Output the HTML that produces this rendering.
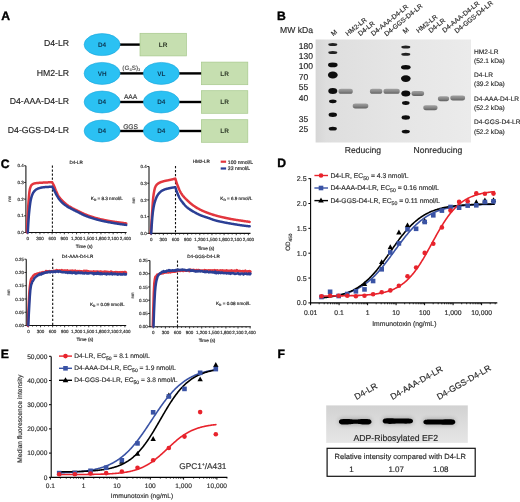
<!DOCTYPE html>
<html><head><meta charset="utf-8"><style>
html,body{margin:0;padding:0;background:#fff;}
body{width:520px;height:502px;overflow:hidden;}
svg{display:block;font-family:'Liberation Sans', Arial, sans-serif;text-rendering:geometricPrecision;}
text:not([stroke]){stroke:#333;stroke-width:0.16px;}
</style></head><body>
<svg width="520" height="502" viewBox="0 0 520 502">
<rect width="520" height="502" fill="#fff"/>
<text x="1.3" y="19.7" font-size="12.2" fill="#000" font-weight="bold" stroke="#000" stroke-width="0.35">A</text>
<text x="69.1" y="46.3" font-size="8.7" fill="#222" text-anchor="end">D4-LR</text>
<text x="69.1" y="76.2" font-size="8.7" fill="#222" text-anchor="end">HM2-LR</text>
<text x="69.1" y="104.2" font-size="8.7" fill="#222" text-anchor="end">D4-AAA-D4-LR</text>
<text x="69.1" y="133.4" font-size="8.7" fill="#222" text-anchor="end">D4-GGS-D4-LR</text>
<line x1="119" y1="44.6" x2="141" y2="44.6" stroke="#000" stroke-width="2.4"/>
<ellipse cx="102.1" cy="44.6" rx="18" ry="11" fill="#2bc1f3" stroke="#1fa6dc" stroke-width="0.6"/>
<text x="102.1" y="46.9" font-size="6.4" fill="#0c3550" text-anchor="middle" font-weight="bold" stroke="none">D4</text>
<rect x="140" y="33.3" width="46.4" height="22.6" fill="#c6dfb0" stroke="#a6c88c" stroke-width="0.7"/>
<text x="163.2" y="46.9" font-size="6.5" fill="#2e3a28" text-anchor="middle" font-weight="bold" stroke="none">LR</text>
<line x1="119" y1="73.4" x2="145" y2="73.4" stroke="#000" stroke-width="2.4"/>
<line x1="178" y1="73.4" x2="202" y2="73.4" stroke="#000" stroke-width="2.4"/>
<ellipse cx="102.1" cy="73.4" rx="18" ry="11" fill="#2bc1f3" stroke="#1fa6dc" stroke-width="0.6"/>
<text x="102.1" y="75.7" font-size="6.4" fill="#0c3550" text-anchor="middle" font-weight="bold" stroke="none">VH</text>
<ellipse cx="161.3" cy="73.4" rx="18" ry="11" fill="#2bc1f3" stroke="#1fa6dc" stroke-width="0.6"/>
<text x="161.3" y="75.7" font-size="6.4" fill="#0c3550" text-anchor="middle" font-weight="bold" stroke="none">VL</text>
<rect x="201.4" y="62.1" width="46.4" height="22.6" fill="#c6dfb0" stroke="#a6c88c" stroke-width="0.7"/>
<text x="224.6" y="75.7" font-size="6.5" fill="#2e3a28" text-anchor="middle" font-weight="bold" stroke="none">LR</text>
<line x1="119" y1="102" x2="145" y2="102" stroke="#000" stroke-width="2.4"/>
<line x1="178" y1="102" x2="202" y2="102" stroke="#000" stroke-width="2.4"/>
<ellipse cx="102.1" cy="102" rx="18" ry="11" fill="#2bc1f3" stroke="#1fa6dc" stroke-width="0.6"/>
<text x="102.1" y="104.3" font-size="6.4" fill="#0c3550" text-anchor="middle" font-weight="bold" stroke="none">D4</text>
<ellipse cx="161.3" cy="102" rx="18" ry="11" fill="#2bc1f3" stroke="#1fa6dc" stroke-width="0.6"/>
<text x="161.3" y="104.3" font-size="6.4" fill="#0c3550" text-anchor="middle" font-weight="bold" stroke="none">D4</text>
<rect x="201.4" y="90.7" width="46.4" height="22.6" fill="#c6dfb0" stroke="#a6c88c" stroke-width="0.7"/>
<text x="224.6" y="104.3" font-size="6.5" fill="#2e3a28" text-anchor="middle" font-weight="bold" stroke="none">LR</text>
<line x1="119" y1="131" x2="145" y2="131" stroke="#000" stroke-width="2.4"/>
<line x1="178" y1="131" x2="202" y2="131" stroke="#000" stroke-width="2.4"/>
<ellipse cx="102.1" cy="131" rx="18" ry="11" fill="#2bc1f3" stroke="#1fa6dc" stroke-width="0.6"/>
<text x="102.1" y="133.3" font-size="6.4" fill="#0c3550" text-anchor="middle" font-weight="bold" stroke="none">D4</text>
<ellipse cx="161.3" cy="131" rx="18" ry="11" fill="#2bc1f3" stroke="#1fa6dc" stroke-width="0.6"/>
<text x="161.3" y="133.3" font-size="6.4" fill="#0c3550" text-anchor="middle" font-weight="bold" stroke="none">D4</text>
<rect x="201.4" y="119.7" width="46.4" height="22.6" fill="#c6dfb0" stroke="#a6c88c" stroke-width="0.7"/>
<text x="224.6" y="133.3" font-size="6.5" fill="#2e3a28" text-anchor="middle" font-weight="bold" stroke="none">LR</text>
<text x="122.3" y="70.2" font-size="6.4" fill="#5a5a5a" font-weight="bold" stroke="none">(G<tspan font-size="4" dy="1.2">4</tspan><tspan dy="-1.2">S)</tspan><tspan font-size="4" dy="1.2">3</tspan></text>
<text x="130.6" y="99.4" font-size="6.7" fill="#444" text-anchor="middle">AAA</text>
<text x="130.6" y="128.6" font-size="6.7" fill="#444" text-anchor="middle">GGS</text>
<text x="277" y="20" font-size="12.2" fill="#000" font-weight="bold" stroke="#000" stroke-width="0.35">B</text>
<text x="280" y="32.8" font-size="8.6" fill="#2a2a2a">MW kDa</text>
<text x="298.8" y="48.7" font-size="8.5" fill="#222">180</text>
<text x="298.8" y="59" font-size="8.5" fill="#222">130</text>
<text x="298.8" y="69.4" font-size="8.5" fill="#222">100</text>
<text x="298.8" y="79.9" font-size="8.5" fill="#222">70</text>
<text x="298.8" y="90.3" font-size="8.5" fill="#222">55</text>
<text x="298.8" y="100.6" font-size="8.5" fill="#222">40</text>
<text x="298.8" y="122" font-size="8.5" fill="#222">35</text>
<text x="298.8" y="132" font-size="8.5" fill="#222">25</text>
<defs><linearGradient id="gelg" x1="0" y1="0" x2="1" y2="0"><stop offset="0" stop-color="#d6d6d6"/><stop offset="0.07" stop-color="#dedede"/><stop offset="0.5" stop-color="#e5e5e5"/><stop offset="1" stop-color="#ebebeb"/></linearGradient><linearGradient id="bandg" x1="0" y1="0" x2="0" y2="1"><stop offset="0" stop-color="#a2a2a2"/><stop offset="0.55" stop-color="#858585"/><stop offset="1" stop-color="#606060"/></linearGradient><filter id="bl1" x="-50%" y="-50%" width="200%" height="200%"><feGaussianBlur stdDeviation="0.7"/></filter><filter id="bl2" x="-50%" y="-50%" width="200%" height="200%"><feGaussianBlur stdDeviation="0.75"/></filter></defs>
<rect x="315.6" y="39.5" width="155.4" height="103" fill="url(#gelg)"/>
<g filter="url(#bl1)">
<ellipse cx="332.8" cy="44.4" rx="4.5" ry="1.5" fill="#222"/>
<ellipse cx="332.8" cy="52.4" rx="4.5" ry="1.5" fill="#222"/>
<ellipse cx="332.8" cy="64.9" rx="4.8" ry="2.3" fill="#111"/>
<ellipse cx="332.8" cy="75.0" rx="4.9" ry="3.5" fill="#0a0a0a"/>
<ellipse cx="332.8" cy="90.9" rx="4.5" ry="3.0" fill="#0a0a0a"/>
<ellipse cx="332.8" cy="101.3" rx="3.8" ry="1.9" fill="#111"/>
<ellipse cx="332.8" cy="114.8" rx="4.2" ry="2.2" fill="#111"/>
<ellipse cx="332.8" cy="128.7" rx="4.1" ry="1.9" fill="#111"/>
<ellipse cx="405.8" cy="46.9" rx="4.5" ry="1.5" fill="#222"/>
<ellipse cx="405.8" cy="54.3" rx="4.5" ry="1.5" fill="#222"/>
<ellipse cx="405.8" cy="67.3" rx="4.8" ry="2.3" fill="#111"/>
<ellipse cx="405.8" cy="78.6" rx="4.8" ry="3.4" fill="#0a0a0a"/>
<ellipse cx="405.8" cy="93.6" rx="4.5" ry="3.0" fill="#0a0a0a"/>
<ellipse cx="405.8" cy="103.0" rx="3.8" ry="1.9" fill="#111"/>
<ellipse cx="405.8" cy="117.5" rx="4.2" ry="2.2" fill="#111"/>
<ellipse cx="405.8" cy="131.6" rx="4.1" ry="1.9" fill="#111"/>
</g><g filter="url(#bl2)">
<rect x="338.5" y="88.8" width="14.3" height="5.0" rx="2.6" ry="2.4" fill="url(#bandg)"/>
<rect x="352.7" y="103.4" width="15.6" height="5.0" rx="2.6" ry="2.4" fill="url(#bandg)"/>
<rect x="369.9" y="88.8" width="12.4" height="5.0" rx="2.6" ry="2.4" fill="url(#bandg)"/>
<rect x="383.5" y="88.8" width="16.2" height="5.0" rx="2.6" ry="2.4" fill="url(#bandg)"/>
<rect x="411.5" y="90.9" width="12.6" height="5.0" rx="2.6" ry="2.4" fill="url(#bandg)"/>
<rect x="423.3" y="105.2" width="14.2" height="5.0" rx="2.6" ry="2.4" fill="url(#bandg)"/>
<rect x="437.9" y="96.2" width="11.2" height="5.0" rx="2.6" ry="2.4" fill="url(#bandg)"/>
<rect x="450.3" y="95.4" width="14.8" height="5.0" rx="2.6" ry="2.4" fill="url(#bandg)"/>
</g>
<text x="333.2" y="36.3" font-size="6.7" fill="#2a2a2a" transform="rotate(-39 333.2 36.3)">M</text>
<text x="347.8" y="36.3" font-size="6.7" fill="#2a2a2a" transform="rotate(-39 347.8 36.3)">HM2-LR</text>
<text x="360.2" y="36.3" font-size="6.7" fill="#2a2a2a" transform="rotate(-39 360.2 36.3)">D4-LR</text>
<text x="373.2" y="36.3" font-size="6.7" fill="#2a2a2a" transform="rotate(-39 373.2 36.3)">D4-AAA-D4-LR</text>
<text x="386.4" y="36.5" font-size="6.7" fill="#2a2a2a" transform="rotate(-39 386.4 36.5)">D4-GGS-D4-LR</text>
<text x="405" y="34" font-size="6.7" fill="#2a2a2a" transform="rotate(-39 405 34)">M</text>
<text x="418.6" y="33.3" font-size="6.7" fill="#2a2a2a" transform="rotate(-39 418.6 33.3)">HM2-LR</text>
<text x="430.7" y="33.3" font-size="6.7" fill="#2a2a2a" transform="rotate(-39 430.7 33.3)">D4-LR</text>
<text x="444.5" y="32.9" font-size="6.7" fill="#2a2a2a" transform="rotate(-39 444.5 32.9)">D4-AAA-D4-LR</text>
<text x="456.8" y="33.5" font-size="6.7" fill="#2a2a2a" transform="rotate(-39 456.8 33.5)">D4-GGS-D4-LR</text>
<text x="474" y="54.2" font-size="6.6" fill="#2a2a2a">HM2-LR</text>
<text x="474" y="62.5" font-size="6.6" fill="#2a2a2a">(52.1 kDa)</text>
<text x="474" y="77.2" font-size="6.6" fill="#2a2a2a">D4-LR</text>
<text x="474" y="86" font-size="6.6" fill="#2a2a2a">(39.2 kDa)</text>
<text x="474" y="100.6" font-size="6.6" fill="#2a2a2a">D4-AAA-D4-LR</text>
<text x="474" y="109.7" font-size="6.6" fill="#2a2a2a">(52.2 kDa)</text>
<text x="474" y="124.3" font-size="6.6" fill="#2a2a2a">D4-GGS-D4-LR</text>
<text x="474" y="133.7" font-size="6.6" fill="#2a2a2a">(52.2 kDa)</text>
<text x="344.8" y="153.1" font-size="8.6" fill="#2a2a2a">Reducing</text>
<text x="413.5" y="153.1" font-size="8.6" fill="#2a2a2a">Nonreducing</text>
<text x="0.8" y="167.6" font-size="12.2" fill="#000" font-weight="bold" stroke="#000" stroke-width="0.35">C</text>
<line x1="25.9" y1="165.78" x2="25.9" y2="233" stroke="#1a1a1a" stroke-width="1.1"/>
<line x1="24.1" y1="232.5" x2="25.9" y2="232.5" stroke="#1a1a1a" stroke-width="0.9"/>
<text x="23.7" y="234.1" font-size="4.5" fill="#333" text-anchor="end" stroke="#333" stroke-width="0.18">0.0</text>
<line x1="24.1" y1="215.82" x2="25.9" y2="215.82" stroke="#1a1a1a" stroke-width="0.9"/>
<text x="23.7" y="217.42" font-size="4.5" fill="#333" text-anchor="end" stroke="#333" stroke-width="0.18">0.1</text>
<line x1="24.1" y1="199.14" x2="25.9" y2="199.14" stroke="#1a1a1a" stroke-width="0.9"/>
<text x="23.7" y="200.74" font-size="4.5" fill="#333" text-anchor="end" stroke="#333" stroke-width="0.18">0.2</text>
<line x1="24.1" y1="182.46" x2="25.9" y2="182.46" stroke="#1a1a1a" stroke-width="0.9"/>
<text x="23.7" y="184.06" font-size="4.5" fill="#333" text-anchor="end" stroke="#333" stroke-width="0.18">0.3</text>
<line x1="24.1" y1="165.78" x2="25.9" y2="165.78" stroke="#1a1a1a" stroke-width="0.9"/>
<text x="23.7" y="167.38" font-size="4.5" fill="#333" text-anchor="end" stroke="#333" stroke-width="0.18">0.4</text>
<line x1="25.9" y1="232.5" x2="126.6" y2="232.5" stroke="#111" stroke-width="1.1"/>
<line x1="27.75" y1="232.5" x2="27.75" y2="234.3" stroke="#111" stroke-width="0.8"/>
<text x="27.75" y="240.1" font-size="4.5" fill="#333" text-anchor="middle" stroke="#333" stroke-width="0.18">0</text>
<line x1="31.82" y1="232.5" x2="31.82" y2="233.7" stroke="#111" stroke-width="0.7"/>
<line x1="35.88" y1="232.5" x2="35.88" y2="233.7" stroke="#111" stroke-width="0.7"/>
<line x1="39.95" y1="232.5" x2="39.95" y2="234.3" stroke="#111" stroke-width="0.8"/>
<text x="39.95" y="240.1" font-size="4.5" fill="#333" text-anchor="middle" stroke="#333" stroke-width="0.18">300</text>
<line x1="44.02" y1="232.5" x2="44.02" y2="233.7" stroke="#111" stroke-width="0.7"/>
<line x1="48.08" y1="232.5" x2="48.08" y2="233.7" stroke="#111" stroke-width="0.7"/>
<line x1="52.15" y1="232.5" x2="52.15" y2="234.3" stroke="#111" stroke-width="0.8"/>
<text x="52.15" y="240.1" font-size="4.5" fill="#333" text-anchor="middle" stroke="#333" stroke-width="0.18">600</text>
<line x1="56.22" y1="232.5" x2="56.22" y2="233.7" stroke="#111" stroke-width="0.7"/>
<line x1="60.28" y1="232.5" x2="60.28" y2="233.7" stroke="#111" stroke-width="0.7"/>
<line x1="64.35" y1="232.5" x2="64.35" y2="234.3" stroke="#111" stroke-width="0.8"/>
<text x="64.35" y="240.1" font-size="4.5" fill="#333" text-anchor="middle" stroke="#333" stroke-width="0.18">900</text>
<line x1="68.42" y1="232.5" x2="68.42" y2="233.7" stroke="#111" stroke-width="0.7"/>
<line x1="72.48" y1="232.5" x2="72.48" y2="233.7" stroke="#111" stroke-width="0.7"/>
<line x1="76.55" y1="232.5" x2="76.55" y2="234.3" stroke="#111" stroke-width="0.8"/>
<text x="76.55" y="240.1" font-size="4.5" fill="#333" text-anchor="middle" stroke="#333" stroke-width="0.18">1,200</text>
<line x1="80.62" y1="232.5" x2="80.62" y2="233.7" stroke="#111" stroke-width="0.7"/>
<line x1="84.68" y1="232.5" x2="84.68" y2="233.7" stroke="#111" stroke-width="0.7"/>
<line x1="88.75" y1="232.5" x2="88.75" y2="234.3" stroke="#111" stroke-width="0.8"/>
<text x="88.75" y="240.1" font-size="4.5" fill="#333" text-anchor="middle" stroke="#333" stroke-width="0.18">1,500</text>
<line x1="92.82" y1="232.5" x2="92.82" y2="233.7" stroke="#111" stroke-width="0.7"/>
<line x1="96.88" y1="232.5" x2="96.88" y2="233.7" stroke="#111" stroke-width="0.7"/>
<line x1="100.95" y1="232.5" x2="100.95" y2="234.3" stroke="#111" stroke-width="0.8"/>
<text x="100.95" y="240.1" font-size="4.5" fill="#333" text-anchor="middle" stroke="#333" stroke-width="0.18">1,800</text>
<line x1="105.02" y1="232.5" x2="105.02" y2="233.7" stroke="#111" stroke-width="0.7"/>
<line x1="109.08" y1="232.5" x2="109.08" y2="233.7" stroke="#111" stroke-width="0.7"/>
<line x1="113.15" y1="232.5" x2="113.15" y2="234.3" stroke="#111" stroke-width="0.8"/>
<text x="113.15" y="240.1" font-size="4.5" fill="#333" text-anchor="middle" stroke="#333" stroke-width="0.18">2,100</text>
<line x1="117.22" y1="232.5" x2="117.22" y2="233.7" stroke="#111" stroke-width="0.7"/>
<line x1="121.28" y1="232.5" x2="121.28" y2="233.7" stroke="#111" stroke-width="0.7"/>
<line x1="125.35" y1="232.5" x2="125.35" y2="234.3" stroke="#111" stroke-width="0.8"/>
<text x="125.35" y="240.1" font-size="4.5" fill="#333" text-anchor="middle" stroke="#333" stroke-width="0.18">2,400</text>
<text x="84.2" y="248" font-size="4.6" fill="#222" text-anchor="middle" stroke="#333" stroke-width="0.18">Time (s)</text>
<text x="11.2" y="198.8" font-size="4.3" fill="#333" stroke="#333" stroke-width="0.15" text-anchor="middle" transform="rotate(-90 11.2 198.8)">nm</text>
<text x="76.1" y="163.5" font-size="4.6" fill="#222" text-anchor="middle" stroke="#333" stroke-width="0.18">D4-LR</text>
<text x="90.8" y="199.6" font-size="4.6" fill="#222" stroke="#333" stroke-width="0.18">K<tspan font-size="3.2" dy="1">D</tspan><tspan dy="-1"> = 8.3 nmol/L</tspan></text>
<line x1="52.4" y1="165.5" x2="52.4" y2="232.5" stroke="#111" stroke-width="1.1" stroke-dasharray="2.2 1.8"/>
<line x1="149" y1="166.5" x2="149" y2="233.9" stroke="#1a1a1a" stroke-width="1.1"/>
<line x1="147.2" y1="233.4" x2="149" y2="233.4" stroke="#1a1a1a" stroke-width="0.9"/>
<text x="146.8" y="235" font-size="4.5" fill="#333" text-anchor="end" stroke="#333" stroke-width="0.18">0.0</text>
<line x1="147.2" y1="216.68" x2="149" y2="216.68" stroke="#1a1a1a" stroke-width="0.9"/>
<text x="146.8" y="218.28" font-size="4.5" fill="#333" text-anchor="end" stroke="#333" stroke-width="0.18">0.1</text>
<line x1="147.2" y1="199.95" x2="149" y2="199.95" stroke="#1a1a1a" stroke-width="0.9"/>
<text x="146.8" y="201.55" font-size="4.5" fill="#333" text-anchor="end" stroke="#333" stroke-width="0.18">0.2</text>
<line x1="147.2" y1="183.22" x2="149" y2="183.22" stroke="#1a1a1a" stroke-width="0.9"/>
<text x="146.8" y="184.82" font-size="4.5" fill="#333" text-anchor="end" stroke="#333" stroke-width="0.18">0.3</text>
<line x1="147.2" y1="166.5" x2="149" y2="166.5" stroke="#1a1a1a" stroke-width="0.9"/>
<text x="146.8" y="168.1" font-size="4.5" fill="#333" text-anchor="end" stroke="#333" stroke-width="0.18">0.4</text>
<line x1="149" y1="233.4" x2="250.5" y2="233.4" stroke="#111" stroke-width="1.1"/>
<line x1="151.2" y1="233.4" x2="151.2" y2="235.2" stroke="#111" stroke-width="0.8"/>
<text x="151.2" y="241" font-size="4.5" fill="#333" text-anchor="middle" stroke="#333" stroke-width="0.18">0</text>
<line x1="155.25" y1="233.4" x2="155.25" y2="234.6" stroke="#111" stroke-width="0.7"/>
<line x1="159.3" y1="233.4" x2="159.3" y2="234.6" stroke="#111" stroke-width="0.7"/>
<line x1="163.35" y1="233.4" x2="163.35" y2="235.2" stroke="#111" stroke-width="0.8"/>
<text x="163.35" y="241" font-size="4.5" fill="#333" text-anchor="middle" stroke="#333" stroke-width="0.18">300</text>
<line x1="167.4" y1="233.4" x2="167.4" y2="234.6" stroke="#111" stroke-width="0.7"/>
<line x1="171.45" y1="233.4" x2="171.45" y2="234.6" stroke="#111" stroke-width="0.7"/>
<line x1="175.5" y1="233.4" x2="175.5" y2="235.2" stroke="#111" stroke-width="0.8"/>
<text x="175.5" y="241" font-size="4.5" fill="#333" text-anchor="middle" stroke="#333" stroke-width="0.18">600</text>
<line x1="179.55" y1="233.4" x2="179.55" y2="234.6" stroke="#111" stroke-width="0.7"/>
<line x1="183.6" y1="233.4" x2="183.6" y2="234.6" stroke="#111" stroke-width="0.7"/>
<line x1="187.65" y1="233.4" x2="187.65" y2="235.2" stroke="#111" stroke-width="0.8"/>
<text x="187.65" y="241" font-size="4.5" fill="#333" text-anchor="middle" stroke="#333" stroke-width="0.18">900</text>
<line x1="191.7" y1="233.4" x2="191.7" y2="234.6" stroke="#111" stroke-width="0.7"/>
<line x1="195.75" y1="233.4" x2="195.75" y2="234.6" stroke="#111" stroke-width="0.7"/>
<line x1="199.8" y1="233.4" x2="199.8" y2="235.2" stroke="#111" stroke-width="0.8"/>
<text x="199.8" y="241" font-size="4.5" fill="#333" text-anchor="middle" stroke="#333" stroke-width="0.18">1,200</text>
<line x1="203.85" y1="233.4" x2="203.85" y2="234.6" stroke="#111" stroke-width="0.7"/>
<line x1="207.9" y1="233.4" x2="207.9" y2="234.6" stroke="#111" stroke-width="0.7"/>
<line x1="211.95" y1="233.4" x2="211.95" y2="235.2" stroke="#111" stroke-width="0.8"/>
<text x="211.95" y="241" font-size="4.5" fill="#333" text-anchor="middle" stroke="#333" stroke-width="0.18">1,500</text>
<line x1="216" y1="233.4" x2="216" y2="234.6" stroke="#111" stroke-width="0.7"/>
<line x1="220.05" y1="233.4" x2="220.05" y2="234.6" stroke="#111" stroke-width="0.7"/>
<line x1="224.1" y1="233.4" x2="224.1" y2="235.2" stroke="#111" stroke-width="0.8"/>
<text x="224.1" y="241" font-size="4.5" fill="#333" text-anchor="middle" stroke="#333" stroke-width="0.18">1,800</text>
<line x1="228.15" y1="233.4" x2="228.15" y2="234.6" stroke="#111" stroke-width="0.7"/>
<line x1="232.2" y1="233.4" x2="232.2" y2="234.6" stroke="#111" stroke-width="0.7"/>
<line x1="236.25" y1="233.4" x2="236.25" y2="235.2" stroke="#111" stroke-width="0.8"/>
<text x="236.25" y="241" font-size="4.5" fill="#333" text-anchor="middle" stroke="#333" stroke-width="0.18">2,100</text>
<line x1="240.3" y1="233.4" x2="240.3" y2="234.6" stroke="#111" stroke-width="0.7"/>
<line x1="244.35" y1="233.4" x2="244.35" y2="234.6" stroke="#111" stroke-width="0.7"/>
<line x1="248.4" y1="233.4" x2="248.4" y2="235.2" stroke="#111" stroke-width="0.8"/>
<text x="248.4" y="241" font-size="4.5" fill="#333" text-anchor="middle" stroke="#333" stroke-width="0.18">2,400</text>
<text x="206" y="249.8" font-size="4.6" fill="#222" text-anchor="middle" stroke="#333" stroke-width="0.18">Time (s)</text>
<text x="134.6" y="200.5" font-size="4.3" fill="#333" stroke="#333" stroke-width="0.15" text-anchor="middle" transform="rotate(-90 134.6 200.5)">nm</text>
<text x="201.2" y="163.3" font-size="4.6" fill="#222" text-anchor="middle" stroke="#333" stroke-width="0.18">HM2-LR</text>
<text x="220.3" y="199.9" font-size="4.6" fill="#222" stroke="#333" stroke-width="0.18">K<tspan font-size="3.2" dy="1">D</tspan><tspan dy="-1"> = 6.9 nmol/L</tspan></text>
<line x1="175.5" y1="166" x2="175.5" y2="233.4" stroke="#111" stroke-width="1.1" stroke-dasharray="2.2 1.8"/>
<line x1="26.25" y1="259.2" x2="26.25" y2="326" stroke="#1a1a1a" stroke-width="1.1"/>
<line x1="24.45" y1="325.5" x2="26.25" y2="325.5" stroke="#1a1a1a" stroke-width="0.9"/>
<text x="24.05" y="327.1" font-size="4.5" fill="#333" text-anchor="end" stroke="#333" stroke-width="0.18">0.00</text>
<line x1="24.45" y1="312.24" x2="26.25" y2="312.24" stroke="#1a1a1a" stroke-width="0.9"/>
<text x="24.05" y="313.84" font-size="4.5" fill="#333" text-anchor="end" stroke="#333" stroke-width="0.18">0.05</text>
<line x1="24.45" y1="298.98" x2="26.25" y2="298.98" stroke="#1a1a1a" stroke-width="0.9"/>
<text x="24.05" y="300.58" font-size="4.5" fill="#333" text-anchor="end" stroke="#333" stroke-width="0.18">0.10</text>
<line x1="24.45" y1="285.72" x2="26.25" y2="285.72" stroke="#1a1a1a" stroke-width="0.9"/>
<text x="24.05" y="287.32" font-size="4.5" fill="#333" text-anchor="end" stroke="#333" stroke-width="0.18">0.15</text>
<line x1="24.45" y1="272.46" x2="26.25" y2="272.46" stroke="#1a1a1a" stroke-width="0.9"/>
<text x="24.05" y="274.06" font-size="4.5" fill="#333" text-anchor="end" stroke="#333" stroke-width="0.18">0.20</text>
<line x1="24.45" y1="259.2" x2="26.25" y2="259.2" stroke="#1a1a1a" stroke-width="0.9"/>
<text x="24.05" y="260.8" font-size="4.5" fill="#333" text-anchor="end" stroke="#333" stroke-width="0.18">0.25</text>
<line x1="26.25" y1="325.5" x2="126.2" y2="325.5" stroke="#111" stroke-width="1.1"/>
<line x1="28.5" y1="325.5" x2="28.5" y2="327.3" stroke="#111" stroke-width="0.8"/>
<text x="28.5" y="333.1" font-size="4.5" fill="#333" text-anchor="middle" stroke="#333" stroke-width="0.18">0</text>
<line x1="32.52" y1="325.5" x2="32.52" y2="326.7" stroke="#111" stroke-width="0.7"/>
<line x1="36.53" y1="325.5" x2="36.53" y2="326.7" stroke="#111" stroke-width="0.7"/>
<line x1="40.55" y1="325.5" x2="40.55" y2="327.3" stroke="#111" stroke-width="0.8"/>
<text x="40.55" y="333.1" font-size="4.5" fill="#333" text-anchor="middle" stroke="#333" stroke-width="0.18">300</text>
<line x1="44.57" y1="325.5" x2="44.57" y2="326.7" stroke="#111" stroke-width="0.7"/>
<line x1="48.58" y1="325.5" x2="48.58" y2="326.7" stroke="#111" stroke-width="0.7"/>
<line x1="52.6" y1="325.5" x2="52.6" y2="327.3" stroke="#111" stroke-width="0.8"/>
<text x="52.6" y="333.1" font-size="4.5" fill="#333" text-anchor="middle" stroke="#333" stroke-width="0.18">600</text>
<line x1="56.62" y1="325.5" x2="56.62" y2="326.7" stroke="#111" stroke-width="0.7"/>
<line x1="60.63" y1="325.5" x2="60.63" y2="326.7" stroke="#111" stroke-width="0.7"/>
<line x1="64.65" y1="325.5" x2="64.65" y2="327.3" stroke="#111" stroke-width="0.8"/>
<text x="64.65" y="333.1" font-size="4.5" fill="#333" text-anchor="middle" stroke="#333" stroke-width="0.18">900</text>
<line x1="68.67" y1="325.5" x2="68.67" y2="326.7" stroke="#111" stroke-width="0.7"/>
<line x1="72.68" y1="325.5" x2="72.68" y2="326.7" stroke="#111" stroke-width="0.7"/>
<line x1="76.7" y1="325.5" x2="76.7" y2="327.3" stroke="#111" stroke-width="0.8"/>
<text x="76.7" y="333.1" font-size="4.5" fill="#333" text-anchor="middle" stroke="#333" stroke-width="0.18">1,200</text>
<line x1="80.72" y1="325.5" x2="80.72" y2="326.7" stroke="#111" stroke-width="0.7"/>
<line x1="84.73" y1="325.5" x2="84.73" y2="326.7" stroke="#111" stroke-width="0.7"/>
<line x1="88.75" y1="325.5" x2="88.75" y2="327.3" stroke="#111" stroke-width="0.8"/>
<text x="88.75" y="333.1" font-size="4.5" fill="#333" text-anchor="middle" stroke="#333" stroke-width="0.18">1,500</text>
<line x1="92.77" y1="325.5" x2="92.77" y2="326.7" stroke="#111" stroke-width="0.7"/>
<line x1="96.78" y1="325.5" x2="96.78" y2="326.7" stroke="#111" stroke-width="0.7"/>
<line x1="100.8" y1="325.5" x2="100.8" y2="327.3" stroke="#111" stroke-width="0.8"/>
<text x="100.8" y="333.1" font-size="4.5" fill="#333" text-anchor="middle" stroke="#333" stroke-width="0.18">1,800</text>
<line x1="104.82" y1="325.5" x2="104.82" y2="326.7" stroke="#111" stroke-width="0.7"/>
<line x1="108.83" y1="325.5" x2="108.83" y2="326.7" stroke="#111" stroke-width="0.7"/>
<line x1="112.85" y1="325.5" x2="112.85" y2="327.3" stroke="#111" stroke-width="0.8"/>
<text x="112.85" y="333.1" font-size="4.5" fill="#333" text-anchor="middle" stroke="#333" stroke-width="0.18">2,100</text>
<line x1="116.87" y1="325.5" x2="116.87" y2="326.7" stroke="#111" stroke-width="0.7"/>
<line x1="120.88" y1="325.5" x2="120.88" y2="326.7" stroke="#111" stroke-width="0.7"/>
<line x1="124.9" y1="325.5" x2="124.9" y2="327.3" stroke="#111" stroke-width="0.8"/>
<text x="124.9" y="333.1" font-size="4.5" fill="#333" text-anchor="middle" stroke="#333" stroke-width="0.18">2,400</text>
<text x="84.9" y="340.9" font-size="4.6" fill="#222" text-anchor="middle" stroke="#333" stroke-width="0.18">Time (s)</text>
<text x="10" y="292.5" font-size="4.3" fill="#333" stroke="#333" stroke-width="0.15" text-anchor="middle" transform="rotate(-90 10 292.5)">nm</text>
<text x="77.5" y="258.4" font-size="4.6" fill="#222" text-anchor="middle" stroke="#333" stroke-width="0.18">D4-AAA-D4-LR</text>
<text x="89.9" y="305.6" font-size="4.6" fill="#222" stroke="#333" stroke-width="0.18">K<tspan font-size="3.2" dy="1">D</tspan><tspan dy="-1"> = 0.09 nmol/L</tspan></text>
<line x1="52.7" y1="258.8" x2="52.7" y2="325.5" stroke="#111" stroke-width="1.1" stroke-dasharray="2.2 1.8"/>
<line x1="149.9" y1="260.5" x2="149.9" y2="327.2" stroke="#1a1a1a" stroke-width="1.1"/>
<line x1="148.1" y1="326.7" x2="149.9" y2="326.7" stroke="#1a1a1a" stroke-width="0.9"/>
<text x="147.7" y="328.3" font-size="4.5" fill="#333" text-anchor="end" stroke="#333" stroke-width="0.18">0.00</text>
<line x1="148.1" y1="313.46" x2="149.9" y2="313.46" stroke="#1a1a1a" stroke-width="0.9"/>
<text x="147.7" y="315.06" font-size="4.5" fill="#333" text-anchor="end" stroke="#333" stroke-width="0.18">0.05</text>
<line x1="148.1" y1="300.22" x2="149.9" y2="300.22" stroke="#1a1a1a" stroke-width="0.9"/>
<text x="147.7" y="301.82" font-size="4.5" fill="#333" text-anchor="end" stroke="#333" stroke-width="0.18">0.10</text>
<line x1="148.1" y1="286.98" x2="149.9" y2="286.98" stroke="#1a1a1a" stroke-width="0.9"/>
<text x="147.7" y="288.58" font-size="4.5" fill="#333" text-anchor="end" stroke="#333" stroke-width="0.18">0.15</text>
<line x1="148.1" y1="273.74" x2="149.9" y2="273.74" stroke="#1a1a1a" stroke-width="0.9"/>
<text x="147.7" y="275.34" font-size="4.5" fill="#333" text-anchor="end" stroke="#333" stroke-width="0.18">0.20</text>
<line x1="148.1" y1="260.5" x2="149.9" y2="260.5" stroke="#1a1a1a" stroke-width="0.9"/>
<text x="147.7" y="262.1" font-size="4.5" fill="#333" text-anchor="end" stroke="#333" stroke-width="0.18">0.25</text>
<line x1="149.9" y1="326.7" x2="250.8" y2="326.7" stroke="#111" stroke-width="1.1"/>
<line x1="153.3" y1="326.7" x2="153.3" y2="328.5" stroke="#111" stroke-width="0.8"/>
<text x="153.3" y="334.3" font-size="4.5" fill="#333" text-anchor="middle" stroke="#333" stroke-width="0.18">0</text>
<line x1="157.33" y1="326.7" x2="157.33" y2="327.9" stroke="#111" stroke-width="0.7"/>
<line x1="161.37" y1="326.7" x2="161.37" y2="327.9" stroke="#111" stroke-width="0.7"/>
<line x1="165.4" y1="326.7" x2="165.4" y2="328.5" stroke="#111" stroke-width="0.8"/>
<text x="165.4" y="334.3" font-size="4.5" fill="#333" text-anchor="middle" stroke="#333" stroke-width="0.18">300</text>
<line x1="169.43" y1="326.7" x2="169.43" y2="327.9" stroke="#111" stroke-width="0.7"/>
<line x1="173.47" y1="326.7" x2="173.47" y2="327.9" stroke="#111" stroke-width="0.7"/>
<line x1="177.5" y1="326.7" x2="177.5" y2="328.5" stroke="#111" stroke-width="0.8"/>
<text x="177.5" y="334.3" font-size="4.5" fill="#333" text-anchor="middle" stroke="#333" stroke-width="0.18">600</text>
<line x1="181.53" y1="326.7" x2="181.53" y2="327.9" stroke="#111" stroke-width="0.7"/>
<line x1="185.57" y1="326.7" x2="185.57" y2="327.9" stroke="#111" stroke-width="0.7"/>
<line x1="189.6" y1="326.7" x2="189.6" y2="328.5" stroke="#111" stroke-width="0.8"/>
<text x="189.6" y="334.3" font-size="4.5" fill="#333" text-anchor="middle" stroke="#333" stroke-width="0.18">900</text>
<line x1="193.63" y1="326.7" x2="193.63" y2="327.9" stroke="#111" stroke-width="0.7"/>
<line x1="197.67" y1="326.7" x2="197.67" y2="327.9" stroke="#111" stroke-width="0.7"/>
<line x1="201.7" y1="326.7" x2="201.7" y2="328.5" stroke="#111" stroke-width="0.8"/>
<text x="201.7" y="334.3" font-size="4.5" fill="#333" text-anchor="middle" stroke="#333" stroke-width="0.18">1,200</text>
<line x1="205.73" y1="326.7" x2="205.73" y2="327.9" stroke="#111" stroke-width="0.7"/>
<line x1="209.77" y1="326.7" x2="209.77" y2="327.9" stroke="#111" stroke-width="0.7"/>
<line x1="213.8" y1="326.7" x2="213.8" y2="328.5" stroke="#111" stroke-width="0.8"/>
<text x="213.8" y="334.3" font-size="4.5" fill="#333" text-anchor="middle" stroke="#333" stroke-width="0.18">1,500</text>
<line x1="217.83" y1="326.7" x2="217.83" y2="327.9" stroke="#111" stroke-width="0.7"/>
<line x1="221.87" y1="326.7" x2="221.87" y2="327.9" stroke="#111" stroke-width="0.7"/>
<line x1="225.9" y1="326.7" x2="225.9" y2="328.5" stroke="#111" stroke-width="0.8"/>
<text x="225.9" y="334.3" font-size="4.5" fill="#333" text-anchor="middle" stroke="#333" stroke-width="0.18">1,800</text>
<line x1="229.93" y1="326.7" x2="229.93" y2="327.9" stroke="#111" stroke-width="0.7"/>
<line x1="233.97" y1="326.7" x2="233.97" y2="327.9" stroke="#111" stroke-width="0.7"/>
<line x1="238" y1="326.7" x2="238" y2="328.5" stroke="#111" stroke-width="0.8"/>
<text x="238" y="334.3" font-size="4.5" fill="#333" text-anchor="middle" stroke="#333" stroke-width="0.18">2,100</text>
<line x1="242.03" y1="326.7" x2="242.03" y2="327.9" stroke="#111" stroke-width="0.7"/>
<line x1="246.07" y1="326.7" x2="246.07" y2="327.9" stroke="#111" stroke-width="0.7"/>
<line x1="250.1" y1="326.7" x2="250.1" y2="328.5" stroke="#111" stroke-width="0.8"/>
<text x="250.1" y="334.3" font-size="4.5" fill="#333" text-anchor="middle" stroke="#333" stroke-width="0.18">2,400</text>
<text x="207" y="342" font-size="4.6" fill="#222" text-anchor="middle" stroke="#333" stroke-width="0.18">Time (s)</text>
<text x="134" y="295.4" font-size="4.3" fill="#333" stroke="#333" stroke-width="0.15" text-anchor="middle" transform="rotate(-90 134 295.4)">nm</text>
<text x="203.5" y="258.2" font-size="4.6" fill="#222" text-anchor="middle" stroke="#333" stroke-width="0.18">D4-GGS-D4-LR</text>
<text x="216" y="305.4" font-size="4.6" fill="#222" stroke="#333" stroke-width="0.18">K<tspan font-size="3.2" dy="1">D</tspan><tspan dy="-1"> = 0.08 nmol/L</tspan></text>
<line x1="177.5" y1="260.5" x2="177.5" y2="326.7" stroke="#111" stroke-width="1.1" stroke-dasharray="2.2 1.8"/>
<rect x="220.7" y="160.6" width="5.4" height="2.2" fill="#e2363e"/>
<rect x="220.7" y="167.4" width="5.4" height="2.2" fill="#2b3f95"/>
<text x="227.8" y="163.5" font-size="5.1" fill="#222" stroke="#333" stroke-width="0.18">100 nmol/L</text>
<text x="227.8" y="170.3" font-size="5.1" fill="#222" stroke="#333" stroke-width="0.18">33 nmol/L</text>
<polyline points="27,232.5 27.4,222.78 27.8,214.15 28.2,206.85 28.6,201.08 29,196.07 29.4,191.97 29.8,189.4 30.2,187.95 30.6,186.78 31,185.87 31.4,185.22 31.8,184.82 32.2,184.5 32.6,184.23 33,183.99 33.4,183.79 33.8,183.63 34.2,183.49 34.6,183.38 35,183.3 35.4,183.24 35.8,183.18 36.2,183.12 36.6,183.07 37,183.02 37.4,182.98 37.8,182.94 38.2,182.91 38.6,182.88 39,182.85 39.4,182.82 39.8,182.79 40.2,182.77 40.6,182.74 41,182.72 41.4,182.7 41.8,182.68 42.2,182.66 42.6,182.63 43,182.61 43.4,182.59 43.8,182.57 44.2,182.55 44.6,182.53 45,182.51 45.4,182.49 45.8,182.47 46.2,182.45 46.6,182.44 47,182.42 47.4,182.4 47.8,182.39 48.2,182.37 48.6,182.36 49,182.35 49.4,182.34 49.8,182.33 50.2,182.32 50.6,182.31 51,182.31 51.4,182.3 51.8,182.3 52.2,182.3 52.2,182.3 52.2,182.3 52.6,183 53,183.75 53.4,184.54 53.8,185.37 54.2,186.25 54.6,187.22 55,188.26 55.4,189.32 55.8,190.37 56.2,191.35 56.6,192.24 57,193.11 57.4,193.95 57.8,194.76 58.2,195.51 58.6,196.19 59,196.79 59.4,197.35 59.8,197.86 60.2,198.35 60.6,198.81 61,199.25 61.4,199.68 61.8,200.09 62.2,200.5 62.6,200.9 63,201.3 63.4,201.7 63.8,202.08 64.2,202.46 64.6,202.83 65,203.19 65.4,203.54 65.8,203.88 66.2,204.21 66.6,204.52 67,204.83 67.4,205.12 67.8,205.4 68.2,205.67 68.6,205.94 69,206.19 69.4,206.45 69.8,206.69 70.2,206.93 70.6,207.16 71,207.39 71.4,207.62 71.8,207.84 72.2,208.07 72.6,208.28 73,208.49 73.4,208.7 73.8,208.91 74.2,209.11 74.6,209.3 75,209.5 75.4,209.69 75.8,209.89 76.2,210.08 76.6,210.27 77,210.46 77.4,210.66 77.8,210.85 78.2,211.05 78.6,211.25 79,211.44 79.4,211.65 79.8,211.85 80.2,212.05 80.6,212.25 81,212.45 81.4,212.65 81.8,212.84 82.2,213.04 82.6,213.23 83,213.42 83.4,213.6 83.8,213.78 84.2,213.96 84.6,214.13 85,214.3 85.4,214.46 85.8,214.62 86.2,214.78 86.6,214.94 87,215.1 87.4,215.25 87.8,215.4 88.2,215.55 88.6,215.7 89,215.85 89.4,215.99 89.8,216.13 90.2,216.27 90.6,216.41 91,216.54 91.4,216.68 91.8,216.81 92.2,216.94 92.6,217.06 93,217.19 93.4,217.31 93.8,217.43 94.2,217.55 94.6,217.66 95,217.78 95.4,217.89 95.8,218 96.2,218.11 96.6,218.22 97,218.32 97.4,218.43 97.8,218.53 98.2,218.63 98.6,218.73 99,218.83 99.4,218.93 99.8,219.03 100.2,219.12 100.6,219.21 101,219.31 101.4,219.4 101.8,219.49 102.2,219.58 102.6,219.67 103,219.75 103.4,219.84 103.8,219.93 104.2,220.01 104.6,220.1 105,220.18 105.4,220.26 105.8,220.34 106.2,220.42 106.6,220.5 107,220.58 107.4,220.66 107.8,220.74 108.2,220.81 108.6,220.88 109,220.96 109.4,221.03 109.8,221.1 110.2,221.17 110.6,221.23 111,221.3 111.4,221.36 111.8,221.43 112.2,221.49 112.6,221.55 113,221.61 113.4,221.67 113.8,221.72 114.2,221.78 114.6,221.83 115,221.89 115.4,221.94 115.8,221.99 116.2,222.05 116.6,222.1 117,222.15 117.4,222.21 117.8,222.26 118.2,222.31 118.6,222.37 119,222.42 119.4,222.47 119.8,222.53 120.2,222.58 120.6,222.64 121,222.69 121.4,222.74 121.8,222.8 122.2,222.85 122.6,222.91 123,222.96 123.4,223.01 123.8,223.07 124.2,223.12 124.6,223.17 125,223.23 125.4,223.28 125.8,223.33 126.2,223.39 126.3,223.4" fill="none" stroke="#e2363e" stroke-width="2.5" stroke-linejoin="round" stroke-linecap="round"/>
<polyline points="27.8,232.5 28.2,225.34 28.6,218.93 29,213.75 29.4,209.83 29.8,206.36 30.2,203.35 30.6,200.85 31,198.9 31.4,197.41 31.8,196.11 32.2,194.96 32.6,193.97 33,193.13 33.4,192.43 33.8,191.87 34.2,191.38 34.6,190.93 35,190.52 35.4,190.14 35.8,189.81 36.2,189.51 36.6,189.25 37,189.03 37.4,188.84 37.8,188.68 38.2,188.53 38.6,188.39 39,188.25 39.4,188.12 39.8,188 40.2,187.89 40.6,187.78 41,187.68 41.4,187.59 41.8,187.51 42.2,187.43 42.6,187.37 43,187.31 43.4,187.26 43.8,187.22 44.2,187.18 44.6,187.15 45,187.12 45.4,187.09 45.8,187.06 46.2,187.03 46.6,187 47,186.98 47.4,186.95 47.8,186.93 48.2,186.91 48.6,186.89 49,186.87 49.4,186.86 49.8,186.84 50.2,186.83 50.6,186.82 51,186.81 51.4,186.8 51.8,186.8 52.2,186.8 52.2,186.8 52.2,186.8 52.6,187.49 53,188.19 53.4,188.9 53.8,189.63 54.2,190.38 54.6,191.16 55,191.96 55.4,192.77 55.8,193.57 56.2,194.33 56.6,195.06 57,195.78 57.4,196.48 57.8,197.17 58.2,197.82 58.6,198.42 59,198.97 59.4,199.5 59.8,200 60.2,200.49 60.6,200.95 61,201.39 61.4,201.82 61.8,202.23 62.2,202.61 62.6,202.98 63,203.34 63.4,203.68 63.8,204.02 64.2,204.34 64.6,204.65 65,204.95 65.4,205.24 65.8,205.52 66.2,205.8 66.6,206.07 67,206.33 67.4,206.59 67.8,206.84 68.2,207.08 68.6,207.32 69,207.54 69.4,207.77 69.8,207.98 70.2,208.2 70.6,208.41 71,208.62 71.4,208.84 71.8,209.05 72.2,209.26 72.6,209.47 73,209.67 73.4,209.88 73.8,210.08 74.2,210.28 74.6,210.48 75,210.67 75.4,210.87 75.8,211.07 76.2,211.26 76.6,211.46 77,211.66 77.4,211.85 77.8,212.05 78.2,212.25 78.6,212.45 79,212.66 79.4,212.86 79.8,213.07 80.2,213.28 80.6,213.49 81,213.7 81.4,213.9 81.8,214.11 82.2,214.31 82.6,214.51 83,214.7 83.4,214.89 83.8,215.08 84.2,215.26 84.6,215.43 85,215.6 85.4,215.76 85.8,215.92 86.2,216.08 86.6,216.23 87,216.38 87.4,216.53 87.8,216.67 88.2,216.82 88.6,216.96 89,217.1 89.4,217.23 89.8,217.37 90.2,217.5 90.6,217.63 91,217.76 91.4,217.89 91.8,218.02 92.2,218.14 92.6,218.27 93,218.39 93.4,218.51 93.8,218.63 94.2,218.75 94.6,218.87 95,218.99 95.4,219.1 95.8,219.22 96.2,219.33 96.6,219.45 97,219.56 97.4,219.67 97.8,219.78 98.2,219.88 98.6,219.99 99,220.1 99.4,220.2 99.8,220.3 100.2,220.4 100.6,220.5 101,220.6 101.4,220.69 101.8,220.79 102.2,220.88 102.6,220.97 103,221.06 103.4,221.14 103.8,221.23 104.2,221.31 104.6,221.4 105,221.48 105.4,221.56 105.8,221.64 106.2,221.72 106.6,221.79 107,221.87 107.4,221.95 107.8,222.02 108.2,222.09 108.6,222.17 109,222.24 109.4,222.31 109.8,222.39 110.2,222.46 110.6,222.53 111,222.6 111.4,222.67 111.8,222.74 112.2,222.81 112.6,222.88 113,222.95 113.4,223.02 113.8,223.08 114.2,223.15 114.6,223.22 115,223.28 115.4,223.35 115.8,223.41 116.2,223.48 116.6,223.54 117,223.61 117.4,223.67 117.8,223.73 118.2,223.79 118.6,223.85 119,223.91 119.4,223.97 119.8,224.03 120.2,224.09 120.6,224.14 121,224.2 121.4,224.26 121.8,224.31 122.2,224.37 122.6,224.42 123,224.48 123.4,224.53 123.8,224.58 124.2,224.64 124.6,224.69 125,224.74 125.4,224.79 125.8,224.84 126.2,224.89 126.3,224.9" fill="none" stroke="#2b3f95" stroke-width="2.5" stroke-linejoin="round" stroke-linecap="round"/>
<polyline points="150.8,233.4 151.2,226.6 151.6,220.17 152,214.14 152.4,208.27 152.8,202.42 153.2,197.6 153.6,194.55 154,192.14 154.4,190.11 154.8,188.47 155.2,187.25 155.6,186.42 156,185.73 156.4,185.15 156.8,184.66 157.2,184.24 157.6,183.89 158,183.6 158.4,183.34 158.8,183.1 159.2,182.88 159.6,182.68 160,182.49 160.4,182.32 160.8,182.16 161.2,182.01 161.6,181.87 162,181.74 162.4,181.61 162.8,181.49 163.2,181.37 163.6,181.26 164,181.15 164.4,181.05 164.8,180.95 165.2,180.86 165.6,180.77 166,180.69 166.4,180.61 166.8,180.53 167.2,180.45 167.6,180.37 168,180.3 168.4,180.22 168.8,180.14 169.2,180.06 169.6,179.98 170,179.9 170.4,179.81 170.8,179.72 171.2,179.63 171.6,179.53 172,179.44 172.4,179.34 172.8,179.24 173.2,179.14 173.6,179.04 174,178.94 174.4,178.83 174.8,178.73 175.2,178.63 175.3,178.6 175.3,178.6 175.7,179.91 176.1,181.17 176.5,182.39 176.9,183.56 177.3,184.67 177.7,185.75 178.1,186.8 178.5,187.8 178.9,188.76 179.3,189.67 179.7,190.5 180.1,191.3 180.5,192.05 180.9,192.77 181.3,193.44 181.7,194.06 182.1,194.64 182.5,195.18 182.9,195.7 183.3,196.19 183.7,196.67 184.1,197.13 184.5,197.57 184.9,197.99 185.3,198.41 185.7,198.82 186.1,199.21 186.5,199.61 186.9,200 187.3,200.38 187.7,200.76 188.1,201.14 188.5,201.51 188.9,201.88 189.3,202.24 189.7,202.59 190.1,202.94 190.5,203.28 190.9,203.61 191.3,203.94 191.7,204.26 192.1,204.58 192.5,204.88 192.9,205.18 193.3,205.48 193.7,205.76 194.1,206.04 194.5,206.31 194.9,206.57 195.3,206.84 195.7,207.09 196.1,207.34 196.5,207.59 196.9,207.83 197.3,208.07 197.7,208.3 198.1,208.53 198.5,208.75 198.9,208.97 199.3,209.18 199.7,209.4 200.1,209.6 200.5,209.8 200.9,210 201.3,210.2 201.7,210.39 202.1,210.57 202.5,210.76 202.9,210.94 203.3,211.11 203.7,211.29 204.1,211.46 204.5,211.62 204.9,211.79 205.3,211.95 205.7,212.11 206.1,212.27 206.5,212.42 206.9,212.57 207.3,212.73 207.7,212.88 208.1,213.03 208.5,213.17 208.9,213.32 209.3,213.46 209.7,213.61 210.1,213.75 210.5,213.89 210.9,214.03 211.3,214.16 211.7,214.3 212.1,214.43 212.5,214.56 212.9,214.69 213.3,214.81 213.7,214.93 214.1,215.05 214.5,215.17 214.9,215.29 215.3,215.4 215.7,215.51 216.1,215.62 216.5,215.73 216.9,215.84 217.3,215.94 217.7,216.05 218.1,216.15 218.5,216.26 218.9,216.36 219.3,216.46 219.7,216.56 220.1,216.65 220.5,216.75 220.9,216.85 221.3,216.94 221.7,217.03 222.1,217.13 222.5,217.22 222.9,217.31 223.3,217.4 223.7,217.49 224.1,217.58 224.5,217.67 224.9,217.75 225.3,217.84 225.7,217.93 226.1,218.01 226.5,218.1 226.9,218.18 227.3,218.26 227.7,218.34 228.1,218.43 228.5,218.51 228.9,218.59 229.3,218.67 229.7,218.74 230.1,218.82 230.5,218.9 230.9,218.97 231.3,219.05 231.7,219.12 232.1,219.2 232.5,219.27 232.9,219.34 233.3,219.41 233.7,219.48 234.1,219.55 234.5,219.62 234.9,219.69 235.3,219.75 235.7,219.82 236.1,219.88 236.5,219.95 236.9,220.01 237.3,220.07 237.7,220.13 238.1,220.2 238.5,220.26 238.9,220.32 239.3,220.38 239.7,220.44 240.1,220.5 240.5,220.56 240.9,220.61 241.3,220.67 241.7,220.73 242.1,220.79 242.5,220.85 242.9,220.91 243.3,220.97 243.7,221.03 244.1,221.09 244.5,221.15 244.9,221.21 245.3,221.27 245.7,221.33 246.1,221.38 246.5,221.44 246.9,221.5 247.3,221.56 247.7,221.61 248.1,221.67 248.5,221.73 248.9,221.79 249.3,221.84 249.7,221.9" fill="none" stroke="#e2363e" stroke-width="2.5" stroke-linejoin="round" stroke-linecap="round"/>
<polyline points="151.2,233.4 151.6,227.06 152,221.32 152.4,216.45 152.8,212.7 153.2,209.82 153.6,207.35 154,205.26 154.4,203.51 154.8,202.06 155.2,200.77 155.6,199.59 156,198.51 156.4,197.52 156.8,196.64 157.2,195.86 157.6,195.18 158,194.6 158.4,194.08 158.8,193.59 159.2,193.13 159.6,192.7 160,192.3 160.4,191.92 160.8,191.57 161.2,191.25 161.6,190.96 162,190.69 162.4,190.45 162.8,190.24 163.2,190.06 163.6,189.89 164,189.72 164.4,189.57 164.8,189.43 165.2,189.29 165.6,189.16 166,189.04 166.4,188.92 166.8,188.81 167.2,188.71 167.6,188.61 168,188.51 168.4,188.42 168.8,188.33 169.2,188.25 169.6,188.16 170,188.08 170.4,188 170.8,187.92 171.2,187.84 171.6,187.77 172,187.69 172.4,187.62 172.8,187.55 173.2,187.49 173.6,187.43 174,187.37 174.4,187.31 174.8,187.26 175.2,187.21 175.3,187.2 175.3,187.2 175.7,188.45 176.1,189.66 176.5,190.82 176.9,191.92 177.3,192.95 177.7,193.95 178.1,194.92 178.5,195.85 178.9,196.73 179.3,197.54 179.7,198.28 180.1,198.96 180.5,199.6 180.9,200.19 181.3,200.76 181.7,201.3 182.1,201.83 182.5,202.35 182.9,202.86 183.3,203.36 183.7,203.84 184.1,204.32 184.5,204.78 184.9,205.23 185.3,205.66 185.7,206.07 186.1,206.46 186.5,206.84 186.9,207.19 187.3,207.52 187.7,207.84 188.1,208.16 188.5,208.46 188.9,208.75 189.3,209.04 189.7,209.32 190.1,209.59 190.5,209.85 190.9,210.11 191.3,210.36 191.7,210.6 192.1,210.85 192.5,211.09 192.9,211.32 193.3,211.55 193.7,211.78 194.1,212.01 194.5,212.24 194.9,212.47 195.3,212.69 195.7,212.91 196.1,213.13 196.5,213.34 196.9,213.55 197.3,213.76 197.7,213.96 198.1,214.16 198.5,214.35 198.9,214.54 199.3,214.73 199.7,214.91 200.1,215.08 200.5,215.25 200.9,215.42 201.3,215.58 201.7,215.73 202.1,215.88 202.5,216.02 202.9,216.16 203.3,216.3 203.7,216.43 204.1,216.56 204.5,216.68 204.9,216.81 205.3,216.93 205.7,217.06 206.1,217.18 206.5,217.31 206.9,217.43 207.3,217.56 207.7,217.7 208.1,217.83 208.5,217.97 208.9,218.12 209.3,218.26 209.7,218.42 210.1,218.57 210.5,218.73 210.9,218.88 211.3,219.04 211.7,219.2 212.1,219.35 212.5,219.5 212.9,219.65 213.3,219.79 213.7,219.92 214.1,220.05 214.5,220.17 214.9,220.29 215.3,220.4 215.7,220.5 216.1,220.61 216.5,220.71 216.9,220.82 217.3,220.91 217.7,221.01 218.1,221.11 218.5,221.2 218.9,221.29 219.3,221.38 219.7,221.47 220.1,221.56 220.5,221.64 220.9,221.73 221.3,221.81 221.7,221.89 222.1,221.98 222.5,222.06 222.9,222.14 223.3,222.22 223.7,222.3 224.1,222.38 224.5,222.46 224.9,222.54 225.3,222.62 225.7,222.69 226.1,222.77 226.5,222.84 226.9,222.92 227.3,222.99 227.7,223.06 228.1,223.13 228.5,223.2 228.9,223.27 229.3,223.34 229.7,223.41 230.1,223.48 230.5,223.55 230.9,223.62 231.3,223.68 231.7,223.75 232.1,223.82 232.5,223.88 232.9,223.95 233.3,224.02 233.7,224.08 234.1,224.15 234.5,224.22 234.9,224.28 235.3,224.35 235.7,224.41 236.1,224.48 236.5,224.55 236.9,224.61 237.3,224.68 237.7,224.74 238.1,224.81 238.5,224.87 238.9,224.93 239.3,225 239.7,225.06 240.1,225.12 240.5,225.18 240.9,225.24 241.3,225.3 241.7,225.36 242.1,225.41 242.5,225.47 242.9,225.52 243.3,225.57 243.7,225.63 244.1,225.68 244.5,225.73 244.9,225.78 245.3,225.82 245.7,225.87 246.1,225.92 246.5,225.96 246.9,226.01 247.3,226.05 247.7,226.1 248.1,226.14 248.5,226.18 248.9,226.22 249.3,226.26 249.7,226.3" fill="none" stroke="#2b3f95" stroke-width="2.5" stroke-linejoin="round" stroke-linecap="round"/>
<polyline points="27.9,325.91 28.4,310.67 28.9,300.66 29.4,291.38 29.9,286.03 30.4,282.5 30.9,279.52 31.4,278.7 31.9,277.47 32.4,277.89 32.9,276.3 33.4,275.6 33.9,275.22 34.4,274.76 34.9,274.34 35.4,274.27 35.9,274.29 36.4,273.86 36.9,274.03 37.4,273.51 37.9,273.42 38.4,273.74 38.9,273.31 39.4,272.88 39.9,272.86 40.4,272.96 40.9,273.28 41.4,272.51 41.9,272.42 42.4,272.7 42.9,272.05 43.4,272.14 43.9,272.41 44.4,272.24 44.9,272.02 45.4,272.12 45.9,271 46.4,272.09 46.9,271.44 47.4,271.16 47.9,271.69 48.4,271.76 48.9,271.37 49.4,271.13 49.9,271.41 50.4,271.34 50.9,271.73 51.4,271.48 51.9,271.27 52.4,271.5 52.9,271.07 53.4,270.81 53.9,271.23 54.4,271.19 54.9,270.92 55.4,270.72 55.9,271 56.4,270.17 56.9,271.11 57.4,271.04 57.9,270.39 58.4,270.89 58.9,270.57 59.4,271.08 59.9,270.23 60.4,270.56 60.9,271.04 61.4,271.17 61.9,270.17 62.4,270.66 62.9,270.91 63.4,270.62 63.9,271.28 64.4,270.44 64.9,270.91 65.4,270.49 65.9,271.22 66.4,270.8 66.9,270.7 67.4,270.3 67.9,271.33 68.4,271.06 68.9,271.07 69.4,271.2 69.9,270.97 70.4,270.69 70.9,270.66 71.4,270.67 71.9,271.34 72.4,270.51 72.9,270.78 73.4,270.88 73.9,271.06 74.4,271.19 74.9,270.66 75.4,270.53 75.9,271.06 76.4,271.45 76.9,271.33 77.4,271.18 77.9,271.04 78.4,271.24 78.9,271.09 79.4,271.43 79.9,270.96 80.4,271.25 80.9,271.19 81.4,271.4 81.9,271.32 82.4,272.03 82.9,271.73 83.4,271.75 83.9,270.7 84.4,271.23 84.9,271.16 85.4,271.52 85.9,270.69 86.4,271.74 86.9,271.73 87.4,271.03 87.9,271.15 88.4,271.21 88.9,271.48 89.4,271.68 89.9,272.12 90.4,271.46 90.9,271.76 91.4,271.6 91.9,272.09 92.4,271.8 92.9,272.01 93.4,271.29 93.9,271.57 94.4,271.4 94.9,272.11 95.4,271.87 95.9,271.59 96.4,271.56 96.9,271.86 97.4,271.52 97.9,271.46 98.4,271.9 98.9,272.51 99.4,271.71 99.9,271.63 100.4,271.46 100.9,271.42 101.4,271.99 101.9,272.1 102.4,271.87 102.9,271.98 103.4,271.92 103.9,271.94 104.4,271.46 104.9,271.79 105.4,271.97 105.9,271.72 106.4,271.82 106.9,271.73 107.4,271.89 107.9,272.26 108.4,271.89 108.9,271.98 109.4,272.28 109.9,272.24 110.4,272.57 110.9,271.45 111.4,272.34 111.9,271.95 112.4,272.15 112.9,272.37 113.4,272.46 113.9,272.46 114.4,272.2 114.9,272.65 115.4,272.09 115.9,272.15 116.4,272.44 116.9,272.05 117.4,272.87 117.9,272.54 118.4,272.9 118.9,272.25 119.4,272.15 119.9,272.33 120.4,272.51 120.9,272.12 121.4,272.42 121.9,272.31 122.4,272.81 122.9,272.14 123.4,272.66 123.9,272.17 124.4,272.08 124.9,272.17 125.4,272.03 125.9,272.44 126,272.71" fill="none" stroke="#e2363e" stroke-width="2.5" stroke-linejoin="round" stroke-linecap="round"/>
<polyline points="28.3,325.35 28.8,314.13 29.3,305.09 29.8,296.78 30.3,290.33 30.8,286.79 31.3,284.29 31.8,283.44 32.3,281.49 32.8,281.2 33.3,280.07 33.8,279.59 34.3,278.49 34.8,277.62 35.3,277.42 35.8,276.69 36.3,276.43 36.8,276.15 37.3,275.79 37.8,275.49 38.3,275.03 38.8,274.99 39.3,274.18 39.8,274.57 40.3,274.06 40.8,274.58 41.3,274.45 41.8,273.31 42.3,273.78 42.8,273.53 43.3,273.09 43.8,273.41 44.3,272.96 44.8,272.42 45.3,272.74 45.8,272.64 46.3,272.59 46.8,272.07 47.3,272.51 47.8,272.44 48.3,271.79 48.8,271.85 49.3,271.95 49.8,271.74 50.3,272.38 50.8,271.87 51.3,271.45 51.8,271.47 52.3,271.64 52.8,272.3 53.3,271.51 53.8,271.57 54.3,271.65 54.8,271.45 55.3,272.12 55.8,271.26 56.3,271.63 56.8,271.45 57.3,271.59 57.8,271.06 58.3,271.97 58.8,271.44 59.3,271.54 59.8,271.3 60.3,271.42 60.8,271.87 61.3,272.06 61.8,272.06 62.3,272.27 62.8,272.18 63.3,272.04 63.8,272.34 64.3,272.32 64.8,272.15 65.3,272.44 65.8,272.64 66.3,272.36 66.8,272.22 67.3,272.57 67.8,272.96 68.3,272.36 68.8,272.42 69.3,272.44 69.8,272.88 70.3,271.99 70.8,272.68 71.3,272.95 71.8,272.38 72.3,273.1 72.8,272.84 73.3,272.54 73.8,272.79 74.3,272.29 74.8,272.61 75.3,273.35 75.8,272.55 76.3,273.4 76.8,272.84 77.3,273.19 77.8,272.92 78.3,272.26 78.8,272.78 79.3,273.03 79.8,272.65 80.3,272.61 80.8,273.14 81.3,272.85 81.8,272.56 82.3,272.88 82.8,273.36 83.3,272.98 83.8,273.42 84.3,273.61 84.8,273.18 85.3,272.85 85.8,272.81 86.3,273.21 86.8,273.5 87.3,273.33 87.8,273.43 88.3,273.14 88.8,273.38 89.3,273.16 89.8,273.22 90.3,272.95 90.8,272.88 91.3,273.22 91.8,273.04 92.3,273.1 92.8,273.6 93.3,273.38 93.8,274.3 94.3,273.72 94.8,273.27 95.3,273.7 95.8,273.59 96.3,273.29 96.8,273.84 97.3,273.29 97.8,272.62 98.3,273.79 98.8,273.38 99.3,274.03 99.8,273.4 100.3,273.25 100.8,274.09 101.3,273.31 101.8,273.71 102.3,274.1 102.8,273.71 103.3,273.67 103.8,273.74 104.3,273.97 104.8,273.49 105.3,273.93 105.8,273.94 106.3,274.48 106.8,273.69 107.3,273.53 107.8,274.04 108.3,273.71 108.8,273.93 109.3,273.9 109.8,274.22 110.3,273.69 110.8,273.87 111.3,273.15 111.8,273.66 112.3,274.4 112.8,273.75 113.3,273.76 113.8,273.62 114.3,274.17 114.8,274.06 115.3,273.67 115.8,274.24 116.3,274.13 116.8,274.29 117.3,273.88 117.8,274.61 118.3,274.22 118.8,274.08 119.3,273.97 119.8,274.07 120.3,274.41 120.8,274.09 121.3,274.5 121.8,274.37 122.3,274.61 122.8,274.46 123.3,274.21 123.8,273.67 124.3,274.35 124.8,274.51 125.3,274.33 125.8,274.46 126,274.16" fill="none" stroke="#2b3f95" stroke-width="2.5" stroke-linejoin="round" stroke-linecap="round"/>
<polyline points="152.8,326.29 153.3,308.84 153.8,292.76 154.3,283.16 154.8,279.3 155.3,276.96 155.8,276.34 156.3,276.11 156.8,275.28 157.3,274.51 157.8,274.84 158.3,274.58 158.8,274.22 159.3,273.95 159.8,273.87 160.3,273.51 160.8,273.43 161.3,272.82 161.8,273.38 162.3,272.89 162.8,273.33 163.3,272.03 163.8,272.78 164.3,272.8 164.8,272.35 165.3,272.54 165.8,272.58 166.3,272.48 166.8,272.11 167.3,272.19 167.8,272.51 168.3,272.55 168.8,272.17 169.3,272.13 169.8,272.13 170.3,272.35 170.8,271.69 171.3,271.57 171.8,271.96 172.3,271.55 172.8,271.66 173.3,271.8 173.8,271.86 174.3,271.31 174.8,271.79 175.3,270.93 175.8,271.53 176.3,270.8 176.8,270.79 177.3,271.27 177.8,270.86 178.3,270.66 178.8,270.68 179.3,270.88 179.8,270.67 180.3,270.63 180.8,270.92 181.3,270.38 181.8,270.43 182.3,270.4 182.8,270.9 183.3,270.83 183.8,270.9 184.3,270.49 184.8,270.44 185.3,270.73 185.8,270.35 186.3,270.7 186.8,270.66 187.3,270.22 187.8,270.4 188.3,270.38 188.8,270.92 189.3,271.17 189.8,270.35 190.3,270.38 190.8,269.68 191.3,270.43 191.8,270.35 192.3,270.03 192.8,270.58 193.3,269.87 193.8,270.27 194.3,270.37 194.8,269.95 195.3,270.57 195.8,270.63 196.3,269.9 196.8,269.89 197.3,270.49 197.8,270.29 198.3,269.94 198.8,270.21 199.3,270.27 199.8,270.26 200.3,270.55 200.8,270.42 201.3,270.83 201.8,270.72 202.3,270.51 202.8,270.63 203.3,270.71 203.8,270.53 204.3,269.96 204.8,270.59 205.3,270.36 205.8,270.83 206.3,270.38 206.8,270.51 207.3,270.46 207.8,270.88 208.3,270.43 208.8,270.31 209.3,270.49 209.8,270.27 210.3,270.46 210.8,270.42 211.3,270.51 211.8,271.02 212.3,270.33 212.8,270.47 213.3,270.41 213.8,270.68 214.3,270.13 214.8,270.29 215.3,270.49 215.8,270.68 216.3,270.51 216.8,270.38 217.3,270.28 217.8,270.7 218.3,270.99 218.8,270.67 219.3,270.64 219.8,270.72 220.3,270.32 220.8,270.52 221.3,270.54 221.8,270.72 222.3,270.63 222.8,270.29 223.3,271 223.8,271.18 224.3,270.61 224.8,270.82 225.3,270.79 225.8,270.96 226.3,270.29 226.8,271.23 227.3,270.62 227.8,271.15 228.3,270.81 228.8,270.68 229.3,270.77 229.8,271.09 230.3,270.58 230.8,270.74 231.3,270.72 231.8,270.36 232.3,271.28 232.8,271.08 233.3,270.91 233.8,271.28 234.3,270.66 234.8,270.94 235.3,271.5 235.8,271.29 236.3,270.34 236.8,270.03 237.3,270.73 237.8,271.37 238.3,270.93 238.8,271.02 239.3,271.29 239.8,270.85 240.3,271.2 240.8,271.39 241.3,271.31 241.8,271.3 242.3,271.02 242.8,271.37 243.3,271.11 243.8,271.65 244.3,272.04 244.8,271.07 245.3,270.65 245.8,271.2 246.3,271.46 246.8,271.68 247.3,271.7 247.8,271.16 248.3,271.18 248.8,271.82 249.3,271.13 249.8,271.8 250.3,271.42 250.5,271.73" fill="none" stroke="#e2363e" stroke-width="2.5" stroke-linejoin="round" stroke-linecap="round"/>
<polyline points="153.5,326.61 154,312.07 154.5,301.05 155,291.9 155.5,286.49 156,282.98 156.5,280.35 157,278.6 157.5,276.82 158,275.77 158.5,274.98 159,274.46 159.5,274.23 160,273.3 160.5,273.51 161,272.93 161.5,272.47 162,271.87 162.5,272.09 163,272.01 163.5,271.07 164,271.79 164.5,271.8 165,271.3 165.5,271.27 166,271.77 166.5,271.34 167,270.64 167.5,270.85 168,270.76 168.5,270.71 169,270 169.5,270.89 170,270.44 170.5,270.64 171,270.51 171.5,270.78 172,270.39 172.5,270.21 173,270.57 173.5,270.79 174,270.23 174.5,270.7 175,270.32 175.5,270.04 176,270.62 176.5,269.87 177,270.38 177.5,269.89 178,270.14 178.5,269.61 179,269.7 179.5,270.25 180,269.97 180.5,269.91 181,269.77 181.5,270.04 182,269.49 182.5,269.58 183,269.88 183.5,269.69 184,269.75 184.5,269.95 185,269.96 185.5,269.95 186,270.55 186.5,270.38 187,270.48 187.5,270.13 188,270.02 188.5,269.77 189,270.14 189.5,269.66 190,270.15 190.5,270.6 191,270.9 191.5,270.74 192,270.24 192.5,270.69 193,270.35 193.5,270.88 194,270.64 194.5,270.98 195,271.54 195.5,271.09 196,271.56 196.5,270.96 197,270.85 197.5,271.39 198,271.55 198.5,270.91 199,271.14 199.5,270.73 200,271.14 200.5,271.51 201,271.25 201.5,271.15 202,270.94 202.5,271.52 203,271.69 203.5,271.68 204,271.62 204.5,271.21 205,272.17 205.5,271.67 206,271.69 206.5,272.01 207,271.19 207.5,271.86 208,271.89 208.5,272.09 209,272.43 209.5,272.21 210,271.57 210.5,272.06 211,272.27 211.5,272.29 212,271.9 212.5,271.83 213,272.53 213.5,272.5 214,272.43 214.5,271.95 215,273.03 215.5,271.66 216,272.45 216.5,273.22 217,272.57 217.5,272.72 218,272.32 218.5,273.11 219,272.35 219.5,272.84 220,272.83 220.5,272.51 221,273.12 221.5,272.46 222,272.7 222.5,272.93 223,272.84 223.5,273.13 224,273.3 224.5,272.96 225,272.91 225.5,272.95 226,273.02 226.5,273.4 227,273.12 227.5,273.33 228,273.21 228.5,273.01 229,273.54 229.5,273 230,273.34 230.5,273.81 231,273.06 231.5,273.39 232,272.96 232.5,273.3 233,273.03 233.5,273.39 234,273.36 234.5,273.58 235,274.04 235.5,273.67 236,273.8 236.5,273.61 237,273.57 237.5,273.42 238,273.14 238.5,273.72 239,274.21 239.5,273.88 240,273.6 240.5,274.27 241,273.66 241.5,273.62 242,273.46 242.5,273.55 243,273.78 243.5,274.46 244,273.82 244.5,273.58 245,273.72 245.5,273.85 246,273.41 246.5,273.97 247,274.16 247.5,274.05 248,274.14 248.5,273.59 249,273.47 249.5,274.37 250,274.32 250.5,273.54" fill="none" stroke="#2b3f95" stroke-width="2.5" stroke-linejoin="round" stroke-linecap="round"/>
<text x="277.3" y="167.2" font-size="12.2" fill="#000" font-weight="bold" stroke="#000" stroke-width="0.35">D</text>
<line x1="310.6" y1="178.2" x2="310.6" y2="303.4" stroke="#000" stroke-width="1.1"/>
<line x1="308.4" y1="302.9" x2="310.6" y2="302.9" stroke="#000" stroke-width="1.0"/>
<text x="306.6" y="305.4" font-size="7.1" fill="#2a2a2a" text-anchor="end">0.0</text>
<line x1="308.4" y1="278.05" x2="310.6" y2="278.05" stroke="#000" stroke-width="1.0"/>
<text x="306.6" y="280.55" font-size="7.1" fill="#2a2a2a" text-anchor="end">0.5</text>
<line x1="308.4" y1="253.2" x2="310.6" y2="253.2" stroke="#000" stroke-width="1.0"/>
<text x="306.6" y="255.7" font-size="7.1" fill="#2a2a2a" text-anchor="end">1.0</text>
<line x1="308.4" y1="228.35" x2="310.6" y2="228.35" stroke="#000" stroke-width="1.0"/>
<text x="306.6" y="230.85" font-size="7.1" fill="#2a2a2a" text-anchor="end">1.5</text>
<line x1="308.4" y1="203.5" x2="310.6" y2="203.5" stroke="#000" stroke-width="1.0"/>
<text x="306.6" y="206" font-size="7.1" fill="#2a2a2a" text-anchor="end">2.0</text>
<line x1="308.4" y1="178.65" x2="310.6" y2="178.65" stroke="#000" stroke-width="1.0"/>
<text x="306.6" y="181.15" font-size="7.1" fill="#2a2a2a" text-anchor="end">2.5</text>
<line x1="310.6" y1="302.9" x2="497.3" y2="302.9" stroke="#000" stroke-width="1.2"/>
<line x1="310.6" y1="302.9" x2="310.6" y2="305.2" stroke="#000" stroke-width="1.0"/>
<text x="310.6" y="314.6" font-size="6.8" fill="#2a2a2a" text-anchor="middle">0.01</text>
<line x1="319.18" y1="302.9" x2="319.18" y2="304.3" stroke="#000" stroke-width="0.8"/>
<line x1="324.2" y1="302.9" x2="324.2" y2="304.3" stroke="#000" stroke-width="0.8"/>
<line x1="327.76" y1="302.9" x2="327.76" y2="304.3" stroke="#000" stroke-width="0.8"/>
<line x1="330.52" y1="302.9" x2="330.52" y2="304.3" stroke="#000" stroke-width="0.8"/>
<line x1="332.78" y1="302.9" x2="332.78" y2="304.3" stroke="#000" stroke-width="0.8"/>
<line x1="334.69" y1="302.9" x2="334.69" y2="304.3" stroke="#000" stroke-width="0.8"/>
<line x1="336.34" y1="302.9" x2="336.34" y2="304.3" stroke="#000" stroke-width="0.8"/>
<line x1="337.8" y1="302.9" x2="337.8" y2="304.3" stroke="#000" stroke-width="0.8"/>
<line x1="339.1" y1="302.9" x2="339.1" y2="305.2" stroke="#000" stroke-width="1.0"/>
<text x="339.1" y="314.6" font-size="6.8" fill="#2a2a2a" text-anchor="middle">0.1</text>
<line x1="347.68" y1="302.9" x2="347.68" y2="304.3" stroke="#000" stroke-width="0.8"/>
<line x1="352.7" y1="302.9" x2="352.7" y2="304.3" stroke="#000" stroke-width="0.8"/>
<line x1="356.26" y1="302.9" x2="356.26" y2="304.3" stroke="#000" stroke-width="0.8"/>
<line x1="359.02" y1="302.9" x2="359.02" y2="304.3" stroke="#000" stroke-width="0.8"/>
<line x1="361.28" y1="302.9" x2="361.28" y2="304.3" stroke="#000" stroke-width="0.8"/>
<line x1="363.19" y1="302.9" x2="363.19" y2="304.3" stroke="#000" stroke-width="0.8"/>
<line x1="364.84" y1="302.9" x2="364.84" y2="304.3" stroke="#000" stroke-width="0.8"/>
<line x1="366.3" y1="302.9" x2="366.3" y2="304.3" stroke="#000" stroke-width="0.8"/>
<line x1="367.6" y1="302.9" x2="367.6" y2="305.2" stroke="#000" stroke-width="1.0"/>
<text x="367.6" y="314.6" font-size="6.8" fill="#2a2a2a" text-anchor="middle">1</text>
<line x1="376.18" y1="302.9" x2="376.18" y2="304.3" stroke="#000" stroke-width="0.8"/>
<line x1="381.2" y1="302.9" x2="381.2" y2="304.3" stroke="#000" stroke-width="0.8"/>
<line x1="384.76" y1="302.9" x2="384.76" y2="304.3" stroke="#000" stroke-width="0.8"/>
<line x1="387.52" y1="302.9" x2="387.52" y2="304.3" stroke="#000" stroke-width="0.8"/>
<line x1="389.78" y1="302.9" x2="389.78" y2="304.3" stroke="#000" stroke-width="0.8"/>
<line x1="391.69" y1="302.9" x2="391.69" y2="304.3" stroke="#000" stroke-width="0.8"/>
<line x1="393.34" y1="302.9" x2="393.34" y2="304.3" stroke="#000" stroke-width="0.8"/>
<line x1="394.8" y1="302.9" x2="394.8" y2="304.3" stroke="#000" stroke-width="0.8"/>
<line x1="396.1" y1="302.9" x2="396.1" y2="305.2" stroke="#000" stroke-width="1.0"/>
<text x="396.1" y="314.6" font-size="6.8" fill="#2a2a2a" text-anchor="middle">10</text>
<line x1="404.68" y1="302.9" x2="404.68" y2="304.3" stroke="#000" stroke-width="0.8"/>
<line x1="409.7" y1="302.9" x2="409.7" y2="304.3" stroke="#000" stroke-width="0.8"/>
<line x1="413.26" y1="302.9" x2="413.26" y2="304.3" stroke="#000" stroke-width="0.8"/>
<line x1="416.02" y1="302.9" x2="416.02" y2="304.3" stroke="#000" stroke-width="0.8"/>
<line x1="418.28" y1="302.9" x2="418.28" y2="304.3" stroke="#000" stroke-width="0.8"/>
<line x1="420.19" y1="302.9" x2="420.19" y2="304.3" stroke="#000" stroke-width="0.8"/>
<line x1="421.84" y1="302.9" x2="421.84" y2="304.3" stroke="#000" stroke-width="0.8"/>
<line x1="423.3" y1="302.9" x2="423.3" y2="304.3" stroke="#000" stroke-width="0.8"/>
<line x1="424.6" y1="302.9" x2="424.6" y2="305.2" stroke="#000" stroke-width="1.0"/>
<text x="424.6" y="314.6" font-size="6.8" fill="#2a2a2a" text-anchor="middle">100</text>
<line x1="433.18" y1="302.9" x2="433.18" y2="304.3" stroke="#000" stroke-width="0.8"/>
<line x1="438.2" y1="302.9" x2="438.2" y2="304.3" stroke="#000" stroke-width="0.8"/>
<line x1="441.76" y1="302.9" x2="441.76" y2="304.3" stroke="#000" stroke-width="0.8"/>
<line x1="444.52" y1="302.9" x2="444.52" y2="304.3" stroke="#000" stroke-width="0.8"/>
<line x1="446.78" y1="302.9" x2="446.78" y2="304.3" stroke="#000" stroke-width="0.8"/>
<line x1="448.69" y1="302.9" x2="448.69" y2="304.3" stroke="#000" stroke-width="0.8"/>
<line x1="450.34" y1="302.9" x2="450.34" y2="304.3" stroke="#000" stroke-width="0.8"/>
<line x1="451.8" y1="302.9" x2="451.8" y2="304.3" stroke="#000" stroke-width="0.8"/>
<line x1="453.1" y1="302.9" x2="453.1" y2="305.2" stroke="#000" stroke-width="1.0"/>
<text x="453.1" y="314.6" font-size="6.8" fill="#2a2a2a" text-anchor="middle">1,000</text>
<line x1="461.68" y1="302.9" x2="461.68" y2="304.3" stroke="#000" stroke-width="0.8"/>
<line x1="466.7" y1="302.9" x2="466.7" y2="304.3" stroke="#000" stroke-width="0.8"/>
<line x1="470.26" y1="302.9" x2="470.26" y2="304.3" stroke="#000" stroke-width="0.8"/>
<line x1="473.02" y1="302.9" x2="473.02" y2="304.3" stroke="#000" stroke-width="0.8"/>
<line x1="475.28" y1="302.9" x2="475.28" y2="304.3" stroke="#000" stroke-width="0.8"/>
<line x1="477.19" y1="302.9" x2="477.19" y2="304.3" stroke="#000" stroke-width="0.8"/>
<line x1="478.84" y1="302.9" x2="478.84" y2="304.3" stroke="#000" stroke-width="0.8"/>
<line x1="480.3" y1="302.9" x2="480.3" y2="304.3" stroke="#000" stroke-width="0.8"/>
<line x1="481.6" y1="302.9" x2="481.6" y2="305.2" stroke="#000" stroke-width="1.0"/>
<text x="481.6" y="314.6" font-size="6.8" fill="#2a2a2a" text-anchor="middle">10,000</text>
<line x1="490.18" y1="302.9" x2="490.18" y2="304.3" stroke="#000" stroke-width="0.8"/>
<line x1="495.2" y1="302.9" x2="495.2" y2="304.3" stroke="#000" stroke-width="0.8"/>
<text x="404.3" y="325.5" font-size="6.8" fill="#2a2a2a" text-anchor="middle">Immunotoxin (ng/mL)</text>
<text x="290.5" y="242.2" font-size="6.3" fill="#2a2a2a" text-anchor="middle" transform="rotate(-90 290.5 242.2)">OD<tspan font-size="4.7" dy="1.5">450</tspan></text>
<polyline points="321.43,297.33 322.01,297.28 322.59,297.23 323.16,297.18 323.74,297.13 324.32,297.08 324.9,297.03 325.47,296.97 326.05,296.92 326.63,296.86 327.21,296.8 327.78,296.73 328.36,296.67 328.94,296.6 329.52,296.53 330.09,296.46 330.67,296.39 331.25,296.31 331.83,296.23 332.4,296.15 332.98,296.07 333.56,295.98 334.14,295.89 334.72,295.8 335.29,295.7 335.87,295.61 336.45,295.5 337.03,295.4 337.6,295.29 338.18,295.18 338.76,295.07 339.34,294.95 339.91,294.82 340.49,294.7 341.07,294.57 341.65,294.43 342.22,294.3 342.8,294.15 343.38,294.01 343.96,293.86 344.54,293.7 345.11,293.54 345.69,293.37 346.27,293.2 346.85,293.03 347.42,292.84 348,292.66 348.58,292.47 349.16,292.27 349.73,292.06 350.31,291.86 350.89,291.64 351.47,291.42 352.04,291.19 352.62,290.95 353.2,290.71 353.78,290.46 354.35,290.21 354.93,289.95 355.51,289.68 356.09,289.4 356.67,289.11 357.24,288.82 357.82,288.52 358.4,288.21 358.98,287.89 359.55,287.57 360.13,287.24 360.71,286.89 361.29,286.54 361.86,286.18 362.44,285.81 363.02,285.44 363.6,285.05 364.17,284.65 364.75,284.24 365.33,283.83 365.91,283.4 366.48,282.97 367.06,282.52 367.64,282.07 368.22,281.6 368.8,281.13 369.37,280.64 369.95,280.15 370.53,279.64 371.11,279.12 371.68,278.6 372.26,278.06 372.84,277.51 373.42,276.96 373.99,276.39 374.57,275.81 375.15,275.22 375.73,274.63 376.3,274.02 376.88,273.4 377.46,272.77 378.04,272.14 378.61,271.49 379.19,270.83 379.77,270.17 380.35,269.5 380.93,268.81 381.5,268.12 382.08,267.42 382.66,266.72 383.24,266 383.81,265.28 384.39,264.55 384.97,263.81 385.55,263.07 386.12,262.32 386.7,261.56 387.28,260.8 387.86,260.04 388.43,259.26 389.01,258.49 389.59,257.71 390.17,256.93 390.75,256.14 391.32,255.35 391.9,254.56 392.48,253.77 393.06,252.98 393.63,252.18 394.21,251.39 394.79,250.59 395.37,249.8 395.94,249 396.52,248.21 397.1,247.42 397.68,246.63 398.25,245.84 398.83,245.06 399.41,244.28 399.99,243.51 400.56,242.73 401.14,241.97 401.72,241.21 402.3,240.45 402.88,239.7 403.45,238.96 404.03,238.22 404.61,237.49 405.19,236.76 405.76,236.05 406.34,235.34 406.92,234.64 407.5,233.95 408.07,233.26 408.65,232.59 409.23,231.92 409.81,231.27 410.38,230.62 410.96,229.98 411.54,229.35 412.12,228.73 412.69,228.12 413.27,227.52 413.85,226.93 414.43,226.36 415.01,225.79 415.58,225.23 416.16,224.68 416.74,224.14 417.32,223.61 417.89,223.1 418.47,222.59 419.05,222.09 419.63,221.61 420.2,221.13 420.78,220.66 421.36,220.21 421.94,219.76 422.51,219.32 423.09,218.9 423.67,218.48 424.25,218.07 424.82,217.67 425.4,217.29 425.98,216.91 426.56,216.54 427.14,216.18 427.71,215.82 428.29,215.48 428.87,215.15 429.45,214.82 430.02,214.5 430.6,214.19 431.18,213.89 431.76,213.6 432.33,213.31 432.91,213.03 433.49,212.76 434.07,212.5 434.64,212.24 435.22,211.99 435.8,211.75 436.38,211.51 436.96,211.28 437.53,211.06 438.11,210.84 438.69,210.63 439.27,210.43 439.84,210.23 440.42,210.04 441,209.85 441.58,209.67 442.15,209.49 442.73,209.32 443.31,209.15 443.89,208.99 444.46,208.84 445.04,208.68 445.62,208.54 446.2,208.39 446.77,208.26 447.35,208.12 447.93,207.99 448.51,207.86 449.09,207.74 449.66,207.62 450.24,207.51 450.82,207.4 451.4,207.29 451.97,207.18 452.55,207.08 453.13,206.98 453.71,206.89 454.28,206.79 454.86,206.7 455.44,206.62 456.02,206.53 456.59,206.45 457.17,206.37 457.75,206.29 458.33,206.22 458.9,206.15 459.48,206.08 460.06,206.01 460.64,205.95 461.22,205.88 461.79,205.82 462.37,205.76 462.95,205.71 463.53,205.65 464.1,205.6 464.68,205.54 465.26,205.49 465.84,205.45 466.41,205.4 466.99,205.35 467.57,205.31 468.15,205.27 468.72,205.22 469.3,205.18 469.88,205.15 470.46,205.11 471.03,205.07 471.61,205.04 472.19,205 472.77,204.97 473.35,204.94 473.92,204.91 474.5,204.88 475.08,204.85 475.66,204.82 476.23,204.79 476.81,204.77 477.39,204.74 477.97,204.72 478.54,204.69 479.12,204.67 479.7,204.65 480.28,204.63 480.85,204.61 481.43,204.59 482.01,204.57 482.59,204.55 483.17,204.53 483.74,204.51 484.32,204.5 484.9,204.48 485.48,204.46 486.05,204.45 486.63,204.43 487.21,204.42 487.79,204.41 488.36,204.39 488.94,204.38 489.52,204.37 490.1,204.35 490.67,204.34 491.25,204.33 491.83,204.32 492.41,204.31 492.98,204.3 493.56,204.29 494.14,204.28" fill="none" stroke="#3a53a5" stroke-width="1.6" stroke-linejoin="round" stroke-linecap="round"/>
<polyline points="321.43,297.9 322.01,297.85 322.59,297.79 323.16,297.74 323.74,297.68 324.32,297.62 324.9,297.56 325.47,297.49 326.05,297.43 326.63,297.36 327.21,297.29 327.78,297.21 328.36,297.14 328.94,297.06 329.52,296.98 330.09,296.89 330.67,296.81 331.25,296.72 331.83,296.63 332.4,296.53 332.98,296.43 333.56,296.33 334.14,296.23 334.72,296.12 335.29,296.01 335.87,295.89 336.45,295.77 337.03,295.65 337.6,295.52 338.18,295.39 338.76,295.25 339.34,295.11 339.91,294.97 340.49,294.82 341.07,294.67 341.65,294.51 342.22,294.34 342.8,294.18 343.38,294 343.96,293.82 344.54,293.64 345.11,293.45 345.69,293.25 346.27,293.05 346.85,292.84 347.42,292.63 348,292.41 348.58,292.18 349.16,291.94 349.73,291.7 350.31,291.45 350.89,291.2 351.47,290.93 352.04,290.66 352.62,290.38 353.2,290.1 353.78,289.8 354.35,289.5 354.93,289.19 355.51,288.87 356.09,288.54 356.67,288.2 357.24,287.86 357.82,287.5 358.4,287.14 358.98,286.76 359.55,286.38 360.13,285.98 360.71,285.58 361.29,285.17 361.86,284.74 362.44,284.31 363.02,283.86 363.6,283.41 364.17,282.94 364.75,282.47 365.33,281.98 365.91,281.48 366.48,280.97 367.06,280.45 367.64,279.92 368.22,279.38 368.8,278.83 369.37,278.27 369.95,277.69 370.53,277.11 371.11,276.51 371.68,275.9 372.26,275.29 372.84,274.66 373.42,274.02 373.99,273.37 374.57,272.71 375.15,272.04 375.73,271.36 376.3,270.67 376.88,269.97 377.46,269.27 378.04,268.55 378.61,267.82 379.19,267.09 379.77,266.35 380.35,265.59 380.93,264.84 381.5,264.07 382.08,263.3 382.66,262.52 383.24,261.73 383.81,260.94 384.39,260.15 384.97,259.35 385.55,258.54 386.12,257.73 386.7,256.92 387.28,256.1 387.86,255.28 388.43,254.46 389.01,253.64 389.59,252.82 390.17,251.99 390.75,251.17 391.32,250.34 391.9,249.52 392.48,248.7 393.06,247.88 393.63,247.06 394.21,246.24 394.79,245.43 395.37,244.62 395.94,243.82 396.52,243.02 397.1,242.22 397.68,241.43 398.25,240.65 398.83,239.87 399.41,239.1 399.99,238.33 400.56,237.58 401.14,236.83 401.72,236.09 402.3,235.35 402.88,234.63 403.45,233.91 404.03,233.21 404.61,232.51 405.19,231.82 405.76,231.15 406.34,230.48 406.92,229.82 407.5,229.17 408.07,228.54 408.65,227.91 409.23,227.3 409.81,226.69 410.38,226.1 410.96,225.51 411.54,224.94 412.12,224.38 412.69,223.83 413.27,223.29 413.85,222.76 414.43,222.25 415.01,221.74 415.58,221.24 416.16,220.76 416.74,220.28 417.32,219.82 417.89,219.37 418.47,218.93 419.05,218.49 419.63,218.07 420.2,217.66 420.78,217.26 421.36,216.87 421.94,216.48 422.51,216.11 423.09,215.75 423.67,215.39 424.25,215.05 424.82,214.71 425.4,214.39 425.98,214.07 426.56,213.76 427.14,213.46 427.71,213.17 428.29,212.88 428.87,212.6 429.45,212.33 430.02,212.07 430.6,211.82 431.18,211.57 431.76,211.33 432.33,211.1 432.91,210.87 433.49,210.65 434.07,210.44 434.64,210.23 435.22,210.03 435.8,209.83 436.38,209.64 436.96,209.46 437.53,209.28 438.11,209.11 438.69,208.94 439.27,208.78 439.84,208.62 440.42,208.47 441,208.32 441.58,208.18 442.15,208.04 442.73,207.9 443.31,207.77 443.89,207.65 444.46,207.52 445.04,207.41 445.62,207.29 446.2,207.18 446.77,207.07 447.35,206.97 447.93,206.87 448.51,206.77 449.09,206.67 449.66,206.58 450.24,206.49 450.82,206.41 451.4,206.33 451.97,206.24 452.55,206.17 453.13,206.09 453.71,206.02 454.28,205.95 454.86,205.88 455.44,205.81 456.02,205.75 456.59,205.69 457.17,205.63 457.75,205.57 458.33,205.52 458.9,205.46 459.48,205.41 460.06,205.36 460.64,205.31 461.22,205.26 461.79,205.22 462.37,205.17 462.95,205.13 463.53,205.09 464.1,205.05 464.68,205.01 465.26,204.97 465.84,204.94 466.41,204.9 466.99,204.87 467.57,204.84 468.15,204.8 468.72,204.77 469.3,204.74 469.88,204.72 470.46,204.69 471.03,204.66 471.61,204.64 472.19,204.61 472.77,204.59 473.35,204.56 473.92,204.54 474.5,204.52 475.08,204.5 475.66,204.48 476.23,204.46 476.81,204.44 477.39,204.42 477.97,204.4 478.54,204.39 479.12,204.37 479.7,204.35 480.28,204.34 480.85,204.32 481.43,204.31 482.01,204.3 482.59,204.28 483.17,204.27 483.74,204.26 484.32,204.24 484.9,204.23 485.48,204.22 486.05,204.21 486.63,204.2 487.21,204.19 487.79,204.18 488.36,204.17 488.94,204.16 489.52,204.15 490.1,204.14 490.67,204.13 491.25,204.13 491.83,204.12 492.41,204.11 492.98,204.1 493.56,204.1 494.14,204.09" fill="none" stroke="#000" stroke-width="1.6" stroke-linejoin="round" stroke-linecap="round"/>
<polyline points="321.43,295.99 322.01,295.99 322.59,295.99 323.16,295.99 323.74,295.98 324.32,295.98 324.9,295.98 325.47,295.98 326.05,295.97 326.63,295.97 327.21,295.97 327.78,295.97 328.36,295.96 328.94,295.96 329.52,295.96 330.09,295.95 330.67,295.95 331.25,295.95 331.83,295.94 332.4,295.94 332.98,295.93 333.56,295.93 334.14,295.92 334.72,295.92 335.29,295.91 335.87,295.91 336.45,295.9 337.03,295.9 337.6,295.89 338.18,295.89 338.76,295.88 339.34,295.87 339.91,295.87 340.49,295.86 341.07,295.85 341.65,295.84 342.22,295.84 342.8,295.83 343.38,295.82 343.96,295.81 344.54,295.8 345.11,295.79 345.69,295.78 346.27,295.77 346.85,295.76 347.42,295.75 348,295.73 348.58,295.72 349.16,295.71 349.73,295.69 350.31,295.68 350.89,295.67 351.47,295.65 352.04,295.63 352.62,295.62 353.2,295.6 353.78,295.58 354.35,295.56 354.93,295.54 355.51,295.52 356.09,295.5 356.67,295.48 357.24,295.46 357.82,295.43 358.4,295.41 358.98,295.38 359.55,295.36 360.13,295.33 360.71,295.3 361.29,295.27 361.86,295.24 362.44,295.21 363.02,295.17 363.6,295.14 364.17,295.1 364.75,295.06 365.33,295.02 365.91,294.98 366.48,294.94 367.06,294.89 367.64,294.85 368.22,294.8 368.8,294.75 369.37,294.7 369.95,294.64 370.53,294.59 371.11,294.53 371.68,294.47 372.26,294.4 372.84,294.34 373.42,294.27 373.99,294.2 374.57,294.12 375.15,294.04 375.73,293.96 376.3,293.88 376.88,293.79 377.46,293.71 378.04,293.61 378.61,293.51 379.19,293.41 379.77,293.31 380.35,293.2 380.93,293.09 381.5,292.97 382.08,292.85 382.66,292.72 383.24,292.59 383.81,292.45 384.39,292.31 384.97,292.16 385.55,292.01 386.12,291.85 386.7,291.69 387.28,291.52 387.86,291.34 388.43,291.16 389.01,290.97 389.59,290.77 390.17,290.56 390.75,290.35 391.32,290.13 391.9,289.9 392.48,289.67 393.06,289.42 393.63,289.17 394.21,288.91 394.79,288.63 395.37,288.35 395.94,288.06 396.52,287.76 397.1,287.45 397.68,287.13 398.25,286.79 398.83,286.45 399.41,286.09 399.99,285.73 400.56,285.35 401.14,284.96 401.72,284.55 402.3,284.13 402.88,283.7 403.45,283.26 404.03,282.8 404.61,282.33 405.19,281.84 405.76,281.34 406.34,280.83 406.92,280.3 407.5,279.75 408.07,279.19 408.65,278.61 409.23,278.02 409.81,277.41 410.38,276.79 410.96,276.15 411.54,275.49 412.12,274.82 412.69,274.13 413.27,273.43 413.85,272.7 414.43,271.97 415.01,271.21 415.58,270.44 416.16,269.65 416.74,268.85 417.32,268.03 417.89,267.2 418.47,266.35 419.05,265.48 419.63,264.6 420.2,263.71 420.78,262.8 421.36,261.88 421.94,260.95 422.51,260 423.09,259.04 423.67,258.07 424.25,257.09 424.82,256.09 425.4,255.09 425.98,254.08 426.56,253.06 427.14,252.03 427.71,251 428.29,249.96 428.87,248.91 429.45,247.86 430.02,246.8 430.6,245.75 431.18,244.69 431.76,243.63 432.33,242.57 432.91,241.5 433.49,240.45 434.07,239.39 434.64,238.33 435.22,237.28 435.8,236.24 436.38,235.2 436.96,234.16 437.53,233.14 438.11,232.12 438.69,231.11 439.27,230.11 439.84,229.12 440.42,228.13 441,227.16 441.58,226.21 442.15,225.26 442.73,224.33 443.31,223.41 443.89,222.5 444.46,221.61 445.04,220.73 445.62,219.87 446.2,219.02 446.77,218.19 447.35,217.37 447.93,216.57 448.51,215.79 449.09,215.02 449.66,214.27 450.24,213.53 450.82,212.81 451.4,212.11 451.97,211.42 452.55,210.75 453.13,210.09 453.71,209.46 454.28,208.83 454.86,208.23 455.44,207.64 456.02,207.06 456.59,206.5 457.17,205.96 457.75,205.43 458.33,204.92 458.9,204.42 459.48,203.93 460.06,203.46 460.64,203.01 461.22,202.57 461.79,202.14 462.37,201.72 462.95,201.32 463.53,200.93 464.1,200.55 464.68,200.18 465.26,199.83 465.84,199.49 466.41,199.15 466.99,198.83 467.57,198.52 468.15,198.22 468.72,197.93 469.3,197.65 469.88,197.38 470.46,197.12 471.03,196.87 471.61,196.62 472.19,196.39 472.77,196.16 473.35,195.94 473.92,195.73 474.5,195.53 475.08,195.33 475.66,195.14 476.23,194.96 476.81,194.78 477.39,194.61 477.97,194.45 478.54,194.29 479.12,194.14 479.7,193.99 480.28,193.85 480.85,193.72 481.43,193.59 482.01,193.46 482.59,193.34 483.17,193.22 483.74,193.11 484.32,193 484.9,192.9 485.48,192.79 486.05,192.7 486.63,192.61 487.21,192.52 487.79,192.43 488.36,192.35 488.94,192.27 489.52,192.19 490.1,192.12 490.67,192.05 491.25,191.98 491.83,191.91 492.41,191.85 492.98,191.79 493.56,191.73 494.14,191.67" fill="none" stroke="#e8232c" stroke-width="1.6" stroke-linejoin="round" stroke-linecap="round"/>
<path d="M364.5,281.19 L367.2,286.05 L361.8,286.05 Z" fill="#000"/>
<path d="M381.7,259.19 L384.4,264.05 L379,264.05 Z" fill="#000"/>
<path d="M390.3,244.29 L393,249.15 L387.6,249.15 Z" fill="#000"/>
<path d="M398.9,229.59 L401.6,234.45 L396.2,234.45 Z" fill="#000"/>
<path d="M407.5,222.39 L410.2,227.25 L404.8,227.25 Z" fill="#000"/>
<path d="M424.7,217.99 L427.4,222.85 L422,222.85 Z" fill="#000"/>
<path d="M476.3,199.29 L479,204.15 L473.6,204.15 Z" fill="#000"/>
<path d="M484.9,197.59 L487.6,202.45 L482.2,202.45 Z" fill="#000"/>
<path d="M493.5,197.19 L496.2,202.05 L490.8,202.05 Z" fill="#000"/>
<rect x="319.2" y="294.7" width="4.6" height="4.6" fill="#3a53a5"/>
<rect x="327.8" y="289.5" width="4.6" height="4.6" fill="#3a53a5"/>
<rect x="336.4" y="293.7" width="4.6" height="4.6" fill="#3a53a5"/>
<rect x="345" y="291.7" width="4.6" height="4.6" fill="#3a53a5"/>
<rect x="353.6" y="289" width="4.6" height="4.6" fill="#3a53a5"/>
<rect x="362.2" y="287.1" width="4.6" height="4.6" fill="#3a53a5"/>
<rect x="370.8" y="278.7" width="4.6" height="4.6" fill="#3a53a5"/>
<rect x="379.4" y="267" width="4.6" height="4.6" fill="#3a53a5"/>
<rect x="388" y="250.2" width="4.6" height="4.6" fill="#3a53a5"/>
<rect x="396.6" y="241.1" width="4.6" height="4.6" fill="#3a53a5"/>
<rect x="405.2" y="227" width="4.6" height="4.6" fill="#3a53a5"/>
<rect x="413.8" y="226.5" width="4.6" height="4.6" fill="#3a53a5"/>
<rect x="422.4" y="219.7" width="4.6" height="4.6" fill="#3a53a5"/>
<rect x="431" y="213" width="4.6" height="4.6" fill="#3a53a5"/>
<rect x="439.6" y="208.3" width="4.6" height="4.6" fill="#3a53a5"/>
<rect x="448.2" y="204.7" width="4.6" height="4.6" fill="#3a53a5"/>
<rect x="456.8" y="205.4" width="4.6" height="4.6" fill="#3a53a5"/>
<rect x="465.4" y="203.3" width="4.6" height="4.6" fill="#3a53a5"/>
<rect x="474" y="203" width="4.6" height="4.6" fill="#3a53a5"/>
<rect x="482.6" y="199.7" width="4.6" height="4.6" fill="#3a53a5"/>
<rect x="491.2" y="199" width="4.6" height="4.6" fill="#3a53a5"/>
<circle cx="321.5" cy="296.3" r="2.3" fill="#e8232c"/>
<circle cx="330.1" cy="295.8" r="2.3" fill="#e8232c"/>
<circle cx="338.7" cy="295.8" r="2.3" fill="#e8232c"/>
<circle cx="347.3" cy="295.8" r="2.3" fill="#e8232c"/>
<circle cx="355.9" cy="296.2" r="2.3" fill="#e8232c"/>
<circle cx="364.5" cy="295.8" r="2.3" fill="#e8232c"/>
<circle cx="373.1" cy="294.2" r="2.3" fill="#e8232c"/>
<circle cx="381.7" cy="292.3" r="2.3" fill="#e8232c"/>
<circle cx="390.3" cy="290.4" r="2.3" fill="#e8232c"/>
<circle cx="398.9" cy="285.8" r="2.3" fill="#e8232c"/>
<circle cx="407.5" cy="276.2" r="2.3" fill="#e8232c"/>
<circle cx="416.1" cy="267.5" r="2.3" fill="#e8232c"/>
<circle cx="424.7" cy="252.9" r="2.3" fill="#e8232c"/>
<circle cx="433.3" cy="243.8" r="2.3" fill="#e8232c"/>
<circle cx="441.9" cy="227.4" r="2.3" fill="#e8232c"/>
<circle cx="450.5" cy="210.6" r="2.3" fill="#e8232c"/>
<circle cx="459.1" cy="201.9" r="2.3" fill="#e8232c"/>
<circle cx="467.7" cy="201.3" r="2.3" fill="#e8232c"/>
<circle cx="476.3" cy="193.3" r="2.3" fill="#e8232c"/>
<circle cx="484.9" cy="193.8" r="2.3" fill="#e8232c"/>
<circle cx="493.5" cy="193.6" r="2.3" fill="#e8232c"/>
<line x1="314.4" y1="175.5" x2="328" y2="175.5" stroke="#e8232c" stroke-width="1.4"/>
<circle cx="321" cy="175.5" r="2.3" fill="#e8232c"/>
<line x1="314.4" y1="188" x2="328" y2="188" stroke="#3a53a5" stroke-width="1.4"/>
<rect x="318.7" y="185.7" width="4.6" height="4.6" fill="#3a53a5"/>
<line x1="314.4" y1="200.6" x2="328" y2="200.6" stroke="#000" stroke-width="1.4"/>
<path d="M321,197.48 L323.8,202.52 L318.2,202.52 Z" fill="#000"/>
<text x="330.4" y="177.8" font-size="6.8" fill="#2a2a2a">D4-LR, EC<tspan font-size="5.17" dy="1.8">50</tspan><tspan dy="-1.8"> = 4.3 nmol/L</tspan></text>
<text x="330.4" y="189.9" font-size="6.8" fill="#2a2a2a">D4-AAA-D4-LR, EC<tspan font-size="5.17" dy="1.8">50</tspan><tspan dy="-1.8"> = 0.16 nmol/L</tspan></text>
<text x="330.4" y="202.9" font-size="6.8" fill="#2a2a2a">D4-GGS-D4-LR, EC<tspan font-size="5.17" dy="1.8">50</tspan><tspan dy="-1.8"> = 0.11 nmol/L</tspan></text>
<text x="0.8" y="357.9" font-size="12.2" fill="#000" font-weight="bold" stroke="#000" stroke-width="0.35">E</text>
<line x1="51.2" y1="356.4" x2="51.2" y2="477.8" stroke="#000" stroke-width="1.1"/>
<line x1="49" y1="477.3" x2="51.2" y2="477.3" stroke="#000" stroke-width="1.0"/>
<text x="47.3" y="479.6" font-size="6.6" fill="#2a2a2a" text-anchor="end">0</text>
<line x1="49" y1="453.1" x2="51.2" y2="453.1" stroke="#000" stroke-width="1.0"/>
<text x="47.3" y="455.4" font-size="6.6" fill="#2a2a2a" text-anchor="end">10,000</text>
<line x1="49" y1="428.9" x2="51.2" y2="428.9" stroke="#000" stroke-width="1.0"/>
<text x="47.3" y="431.2" font-size="6.6" fill="#2a2a2a" text-anchor="end">20,000</text>
<line x1="49" y1="404.7" x2="51.2" y2="404.7" stroke="#000" stroke-width="1.0"/>
<text x="47.3" y="407" font-size="6.6" fill="#2a2a2a" text-anchor="end">30,000</text>
<line x1="49" y1="380.5" x2="51.2" y2="380.5" stroke="#000" stroke-width="1.0"/>
<text x="47.3" y="382.8" font-size="6.6" fill="#2a2a2a" text-anchor="end">40,000</text>
<line x1="49" y1="356.3" x2="51.2" y2="356.3" stroke="#000" stroke-width="1.0"/>
<text x="47.3" y="358.6" font-size="6.6" fill="#2a2a2a" text-anchor="end">50,000</text>
<line x1="51.2" y1="477.3" x2="227.3" y2="477.3" stroke="#000" stroke-width="1.2"/>
<line x1="50.4" y1="477.3" x2="50.4" y2="479.6" stroke="#000" stroke-width="1.0"/>
<text x="50.4" y="487.6" font-size="6.6" fill="#2a2a2a" text-anchor="middle">0.1</text>
<line x1="60.42" y1="477.3" x2="60.42" y2="478.7" stroke="#000" stroke-width="0.8"/>
<line x1="66.29" y1="477.3" x2="66.29" y2="478.7" stroke="#000" stroke-width="0.8"/>
<line x1="70.45" y1="477.3" x2="70.45" y2="478.7" stroke="#000" stroke-width="0.8"/>
<line x1="73.68" y1="477.3" x2="73.68" y2="478.7" stroke="#000" stroke-width="0.8"/>
<line x1="76.31" y1="477.3" x2="76.31" y2="478.7" stroke="#000" stroke-width="0.8"/>
<line x1="78.54" y1="477.3" x2="78.54" y2="478.7" stroke="#000" stroke-width="0.8"/>
<line x1="80.47" y1="477.3" x2="80.47" y2="478.7" stroke="#000" stroke-width="0.8"/>
<line x1="82.18" y1="477.3" x2="82.18" y2="478.7" stroke="#000" stroke-width="0.8"/>
<line x1="83.7" y1="477.3" x2="83.7" y2="479.6" stroke="#000" stroke-width="1.0"/>
<text x="83.7" y="487.6" font-size="6.6" fill="#2a2a2a" text-anchor="middle">1</text>
<line x1="93.72" y1="477.3" x2="93.72" y2="478.7" stroke="#000" stroke-width="0.8"/>
<line x1="99.59" y1="477.3" x2="99.59" y2="478.7" stroke="#000" stroke-width="0.8"/>
<line x1="103.75" y1="477.3" x2="103.75" y2="478.7" stroke="#000" stroke-width="0.8"/>
<line x1="106.98" y1="477.3" x2="106.98" y2="478.7" stroke="#000" stroke-width="0.8"/>
<line x1="109.61" y1="477.3" x2="109.61" y2="478.7" stroke="#000" stroke-width="0.8"/>
<line x1="111.84" y1="477.3" x2="111.84" y2="478.7" stroke="#000" stroke-width="0.8"/>
<line x1="113.77" y1="477.3" x2="113.77" y2="478.7" stroke="#000" stroke-width="0.8"/>
<line x1="115.48" y1="477.3" x2="115.48" y2="478.7" stroke="#000" stroke-width="0.8"/>
<line x1="117" y1="477.3" x2="117" y2="479.6" stroke="#000" stroke-width="1.0"/>
<text x="117" y="487.6" font-size="6.6" fill="#2a2a2a" text-anchor="middle">10</text>
<line x1="127.02" y1="477.3" x2="127.02" y2="478.7" stroke="#000" stroke-width="0.8"/>
<line x1="132.89" y1="477.3" x2="132.89" y2="478.7" stroke="#000" stroke-width="0.8"/>
<line x1="137.05" y1="477.3" x2="137.05" y2="478.7" stroke="#000" stroke-width="0.8"/>
<line x1="140.28" y1="477.3" x2="140.28" y2="478.7" stroke="#000" stroke-width="0.8"/>
<line x1="142.91" y1="477.3" x2="142.91" y2="478.7" stroke="#000" stroke-width="0.8"/>
<line x1="145.14" y1="477.3" x2="145.14" y2="478.7" stroke="#000" stroke-width="0.8"/>
<line x1="147.07" y1="477.3" x2="147.07" y2="478.7" stroke="#000" stroke-width="0.8"/>
<line x1="148.78" y1="477.3" x2="148.78" y2="478.7" stroke="#000" stroke-width="0.8"/>
<line x1="150.3" y1="477.3" x2="150.3" y2="479.6" stroke="#000" stroke-width="1.0"/>
<text x="150.3" y="487.6" font-size="6.6" fill="#2a2a2a" text-anchor="middle">100</text>
<line x1="160.32" y1="477.3" x2="160.32" y2="478.7" stroke="#000" stroke-width="0.8"/>
<line x1="166.19" y1="477.3" x2="166.19" y2="478.7" stroke="#000" stroke-width="0.8"/>
<line x1="170.35" y1="477.3" x2="170.35" y2="478.7" stroke="#000" stroke-width="0.8"/>
<line x1="173.58" y1="477.3" x2="173.58" y2="478.7" stroke="#000" stroke-width="0.8"/>
<line x1="176.21" y1="477.3" x2="176.21" y2="478.7" stroke="#000" stroke-width="0.8"/>
<line x1="178.44" y1="477.3" x2="178.44" y2="478.7" stroke="#000" stroke-width="0.8"/>
<line x1="180.37" y1="477.3" x2="180.37" y2="478.7" stroke="#000" stroke-width="0.8"/>
<line x1="182.08" y1="477.3" x2="182.08" y2="478.7" stroke="#000" stroke-width="0.8"/>
<line x1="183.6" y1="477.3" x2="183.6" y2="479.6" stroke="#000" stroke-width="1.0"/>
<text x="183.6" y="487.6" font-size="6.6" fill="#2a2a2a" text-anchor="middle">1,000</text>
<line x1="193.62" y1="477.3" x2="193.62" y2="478.7" stroke="#000" stroke-width="0.8"/>
<line x1="199.49" y1="477.3" x2="199.49" y2="478.7" stroke="#000" stroke-width="0.8"/>
<line x1="203.65" y1="477.3" x2="203.65" y2="478.7" stroke="#000" stroke-width="0.8"/>
<line x1="206.88" y1="477.3" x2="206.88" y2="478.7" stroke="#000" stroke-width="0.8"/>
<line x1="209.51" y1="477.3" x2="209.51" y2="478.7" stroke="#000" stroke-width="0.8"/>
<line x1="211.74" y1="477.3" x2="211.74" y2="478.7" stroke="#000" stroke-width="0.8"/>
<line x1="213.67" y1="477.3" x2="213.67" y2="478.7" stroke="#000" stroke-width="0.8"/>
<line x1="215.38" y1="477.3" x2="215.38" y2="478.7" stroke="#000" stroke-width="0.8"/>
<line x1="216.9" y1="477.3" x2="216.9" y2="479.6" stroke="#000" stroke-width="1.0"/>
<text x="216.9" y="487.6" font-size="6.6" fill="#2a2a2a" text-anchor="middle">10,000</text>
<line x1="226.92" y1="477.3" x2="226.92" y2="478.7" stroke="#000" stroke-width="0.8"/>
<text x="142" y="497.7" font-size="6.6" fill="#2a2a2a" text-anchor="middle">Immunotoxin (ng/mL)</text>
<text x="21.9" y="418.8" font-size="6.7" fill="#2a2a2a" text-anchor="middle" transform="rotate(-90 21.9 418.8)">Median fluorescence intensity</text>
<polyline points="57.73,474.56 58.36,474.55 59,474.55 59.63,474.55 60.27,474.55 60.9,474.55 61.54,474.55 62.17,474.55 62.81,474.55 63.44,474.55 64.08,474.55 64.71,474.54 65.35,474.54 65.98,474.54 66.62,474.54 67.25,474.54 67.89,474.54 68.53,474.53 69.16,474.53 69.8,474.53 70.43,474.53 71.07,474.53 71.7,474.52 72.34,474.52 72.97,474.52 73.61,474.52 74.24,474.52 74.88,474.51 75.51,474.51 76.15,474.51 76.78,474.5 77.42,474.5 78.05,474.5 78.69,474.49 79.32,474.49 79.96,474.49 80.59,474.48 81.23,474.48 81.87,474.47 82.5,474.47 83.14,474.46 83.77,474.46 84.41,474.45 85.04,474.45 85.68,474.44 86.31,474.43 86.95,474.43 87.58,474.42 88.22,474.41 88.85,474.41 89.49,474.4 90.12,474.39 90.76,474.38 91.39,474.37 92.03,474.36 92.66,474.35 93.3,474.34 93.93,474.33 94.57,474.32 95.21,474.31 95.84,474.3 96.48,474.28 97.11,474.27 97.75,474.25 98.38,474.24 99.02,474.22 99.65,474.21 100.29,474.19 100.92,474.17 101.56,474.15 102.19,474.13 102.83,474.11 103.46,474.09 104.1,474.07 104.73,474.04 105.37,474.02 106,473.99 106.64,473.97 107.27,473.94 107.91,473.91 108.55,473.88 109.18,473.84 109.82,473.81 110.45,473.77 111.09,473.74 111.72,473.7 112.36,473.66 112.99,473.61 113.63,473.57 114.26,473.52 114.9,473.47 115.53,473.42 116.17,473.37 116.8,473.31 117.44,473.26 118.07,473.2 118.71,473.13 119.34,473.07 119.98,473 120.61,472.92 121.25,472.85 121.89,472.77 122.52,472.69 123.16,472.6 123.79,472.51 124.43,472.42 125.06,472.32 125.7,472.22 126.33,472.11 126.97,472 127.6,471.88 128.24,471.76 128.87,471.64 129.51,471.5 130.14,471.37 130.78,471.22 131.41,471.08 132.05,470.92 132.68,470.76 133.32,470.59 133.95,470.42 134.59,470.24 135.23,470.05 135.86,469.86 136.5,469.65 137.13,469.44 137.77,469.23 138.4,469 139.04,468.76 139.67,468.52 140.31,468.27 140.94,468.01 141.58,467.74 142.21,467.46 142.85,467.17 143.48,466.87 144.12,466.56 144.75,466.24 145.39,465.91 146.02,465.57 146.66,465.22 147.29,464.86 147.93,464.49 148.57,464.11 149.2,463.72 149.84,463.31 150.47,462.9 151.11,462.48 151.74,462.04 152.38,461.6 153.01,461.14 153.65,460.68 154.28,460.2 154.92,459.71 155.55,459.22 156.19,458.72 156.82,458.2 157.46,457.68 158.09,457.15 158.73,456.61 159.36,456.06 160,455.51 160.64,454.95 161.27,454.39 161.91,453.81 162.54,453.24 163.18,452.66 163.81,452.07 164.45,451.48 165.08,450.89 165.72,450.3 166.35,449.7 166.99,449.11 167.62,448.51 168.26,447.91 168.89,447.32 169.53,446.73 170.16,446.14 170.8,445.55 171.43,444.96 172.07,444.38 172.7,443.81 173.34,443.24 173.98,442.67 174.61,442.12 175.25,441.57 175.88,441.02 176.52,440.49 177.15,439.96 177.79,439.44 178.42,438.93 179.06,438.42 179.69,437.93 180.33,437.45 180.96,436.98 181.6,436.51 182.23,436.06 182.87,435.62 183.5,435.19 184.14,434.77 184.77,434.36 185.41,433.96 186.04,433.57 186.68,433.19 187.32,432.82 187.95,432.46 188.59,432.12 189.22,431.78 189.86,431.45 190.49,431.14 191.13,430.83 191.76,430.53 192.4,430.25 193.03,429.97 193.67,429.7 194.3,429.44 194.94,429.19 195.57,428.95 196.21,428.72 196.84,428.5 197.48,428.28 198.11,428.07 198.75,427.87 199.38,427.68 200.02,427.49 200.66,427.31 201.29,427.14 201.93,426.98 202.56,426.82 203.2,426.66 203.83,426.52 204.47,426.38 205.1,426.24 205.74,426.11 206.37,425.99 207.01,425.87 207.64,425.75 208.28,425.64 208.91,425.54 209.55,425.44 210.18,425.34 210.82,425.25 211.45,425.16 212.09,425.07 212.72,424.99 213.36,424.91 214,424.84 214.63,424.77 215.27,424.7 215.9,424.63" fill="none" stroke="#e8232c" stroke-width="1.6" stroke-linejoin="round" stroke-linecap="round"/>
<polyline points="57.73,472.83 58.36,472.82 59,472.8 59.63,472.78 60.27,472.76 60.9,472.74 61.54,472.72 62.17,472.69 62.81,472.67 63.44,472.65 64.08,472.62 64.71,472.6 65.35,472.57 65.98,472.54 66.62,472.51 67.25,472.48 67.89,472.45 68.53,472.42 69.16,472.39 69.8,472.35 70.43,472.32 71.07,472.28 71.7,472.24 72.34,472.2 72.97,472.16 73.61,472.12 74.24,472.07 74.88,472.03 75.51,471.98 76.15,471.93 76.78,471.88 77.42,471.83 78.05,471.77 78.69,471.72 79.32,471.66 79.96,471.6 80.59,471.54 81.23,471.47 81.87,471.4 82.5,471.33 83.14,471.26 83.77,471.19 84.41,471.11 85.04,471.03 85.68,470.94 86.31,470.86 86.95,470.77 87.58,470.68 88.22,470.58 88.85,470.48 89.49,470.38 90.12,470.27 90.76,470.16 91.39,470.05 92.03,469.93 92.66,469.81 93.3,469.69 93.93,469.56 94.57,469.42 95.21,469.28 95.84,469.14 96.48,468.99 97.11,468.84 97.75,468.68 98.38,468.51 99.02,468.34 99.65,468.17 100.29,467.99 100.92,467.8 101.56,467.61 102.19,467.41 102.83,467.2 103.46,466.99 104.1,466.77 104.73,466.54 105.37,466.3 106,466.06 106.64,465.81 107.27,465.55 107.91,465.29 108.55,465.01 109.18,464.73 109.82,464.44 110.45,464.14 111.09,463.83 111.72,463.51 112.36,463.18 112.99,462.84 113.63,462.49 114.26,462.14 114.9,461.77 115.53,461.39 116.17,460.99 116.8,460.59 117.44,460.18 118.07,459.76 118.71,459.32 119.34,458.87 119.98,458.41 120.61,457.94 121.25,457.45 121.89,456.96 122.52,456.45 123.16,455.92 123.79,455.39 124.43,454.84 125.06,454.28 125.7,453.7 126.33,453.11 126.97,452.51 127.6,451.9 128.24,451.27 128.87,450.62 129.51,449.97 130.14,449.3 130.78,448.62 131.41,447.92 132.05,447.21 132.68,446.49 133.32,445.75 133.95,445 134.59,444.24 135.23,443.47 135.86,442.68 136.5,441.88 137.13,441.07 137.77,440.25 138.4,439.41 139.04,438.57 139.67,437.71 140.31,436.84 140.94,435.97 141.58,435.08 142.21,434.19 142.85,433.29 143.48,432.37 144.12,431.45 144.75,430.53 145.39,429.6 146.02,428.66 146.66,427.71 147.29,426.76 147.93,425.81 148.57,424.85 149.2,423.89 149.84,422.93 150.47,421.97 151.11,421 151.74,420.04 152.38,419.07 153.01,418.1 153.65,417.14 154.28,416.18 154.92,415.22 155.55,414.26 156.19,413.31 156.82,412.37 157.46,411.42 158.09,410.49 158.73,409.56 159.36,408.63 160,407.72 160.64,406.81 161.27,405.91 161.91,405.02 162.54,404.13 163.18,403.26 163.81,402.4 164.45,401.55 165.08,400.7 165.72,399.87 166.35,399.05 166.99,398.25 167.62,397.45 168.26,396.67 168.89,395.9 169.53,395.14 170.16,394.4 170.8,393.67 171.43,392.95 172.07,392.24 172.7,391.55 173.34,390.87 173.98,390.21 174.61,389.56 175.25,388.92 175.88,388.3 176.52,387.68 177.15,387.09 177.79,386.5 178.42,385.93 179.06,385.38 179.69,384.83 180.33,384.3 180.96,383.78 181.6,383.28 182.23,382.78 182.87,382.3 183.5,381.83 184.14,381.38 184.77,380.93 185.41,380.5 186.04,380.08 186.68,379.67 187.32,379.27 187.95,378.89 188.59,378.51 189.22,378.14 189.86,377.79 190.49,377.44 191.13,377.11 191.76,376.78 192.4,376.47 193.03,376.16 193.67,375.86 194.3,375.58 194.94,375.3 195.57,375.02 196.21,374.76 196.84,374.51 197.48,374.26 198.11,374.02 198.75,373.79 199.38,373.56 200.02,373.34 200.66,373.13 201.29,372.93 201.93,372.73 202.56,372.54 203.2,372.35 203.83,372.17 204.47,372 205.1,371.83 205.74,371.67 206.37,371.51 207.01,371.36 207.64,371.22 208.28,371.07 208.91,370.94 209.55,370.8 210.18,370.67 210.82,370.55 211.45,370.43 212.09,370.31 212.72,370.2 213.36,370.09 214,369.99 214.63,369.89 215.27,369.79 215.9,369.7" fill="none" stroke="#3a53a5" stroke-width="1.6" stroke-linejoin="round" stroke-linecap="round"/>
<polyline points="57.73,471.86 58.36,471.86 59,471.85 59.63,471.85 60.27,471.84 60.9,471.83 61.54,471.83 62.17,471.82 62.81,471.81 63.44,471.81 64.08,471.8 64.71,471.79 65.35,471.78 65.98,471.78 66.62,471.77 67.25,471.76 67.89,471.75 68.53,471.74 69.16,471.73 69.8,471.72 70.43,471.71 71.07,471.7 71.7,471.68 72.34,471.67 72.97,471.66 73.61,471.65 74.24,471.63 74.88,471.62 75.51,471.6 76.15,471.59 76.78,471.57 77.42,471.55 78.05,471.53 78.69,471.51 79.32,471.49 79.96,471.47 80.59,471.45 81.23,471.43 81.87,471.41 82.5,471.38 83.14,471.36 83.77,471.33 84.41,471.3 85.04,471.27 85.68,471.24 86.31,471.21 86.95,471.18 87.58,471.14 88.22,471.11 88.85,471.07 89.49,471.03 90.12,470.99 90.76,470.95 91.39,470.91 92.03,470.86 92.66,470.81 93.3,470.77 93.93,470.71 94.57,470.66 95.21,470.6 95.84,470.55 96.48,470.49 97.11,470.42 97.75,470.36 98.38,470.29 99.02,470.22 99.65,470.14 100.29,470.06 100.92,469.98 101.56,469.9 102.19,469.81 102.83,469.72 103.46,469.63 104.1,469.53 104.73,469.42 105.37,469.32 106,469.2 106.64,469.09 107.27,468.97 107.91,468.84 108.55,468.71 109.18,468.58 109.82,468.43 110.45,468.29 111.09,468.13 111.72,467.97 112.36,467.81 112.99,467.64 113.63,467.46 114.26,467.27 114.9,467.08 115.53,466.88 116.17,466.67 116.8,466.45 117.44,466.23 118.07,466 118.71,465.75 119.34,465.5 119.98,465.24 120.61,464.97 121.25,464.69 121.89,464.4 122.52,464.1 123.16,463.79 123.79,463.46 124.43,463.13 125.06,462.78 125.7,462.42 126.33,462.05 126.97,461.66 127.6,461.26 128.24,460.85 128.87,460.42 129.51,459.98 130.14,459.53 130.78,459.06 131.41,458.57 132.05,458.07 132.68,457.55 133.32,457.02 133.95,456.47 134.59,455.91 135.23,455.33 135.86,454.73 136.5,454.11 137.13,453.48 137.77,452.83 138.4,452.16 139.04,451.47 139.67,450.77 140.31,450.05 140.94,449.31 141.58,448.55 142.21,447.78 142.85,446.98 143.48,446.17 144.12,445.34 144.75,444.5 145.39,443.64 146.02,442.76 146.66,441.86 147.29,440.95 147.93,440.02 148.57,439.08 149.2,438.12 149.84,437.15 150.47,436.16 151.11,435.16 151.74,434.15 152.38,433.13 153.01,432.09 153.65,431.05 154.28,429.99 154.92,428.93 155.55,427.86 156.19,426.78 156.82,425.69 157.46,424.6 158.09,423.51 158.73,422.41 159.36,421.31 160,420.21 160.64,419.11 161.27,418 161.91,416.9 162.54,415.81 163.18,414.71 163.81,413.62 164.45,412.54 165.08,411.46 165.72,410.39 166.35,409.33 166.99,408.27 167.62,407.23 168.26,406.19 168.89,405.17 169.53,404.16 170.16,403.16 170.8,402.18 171.43,401.21 172.07,400.25 172.7,399.31 173.34,398.38 173.98,397.47 174.61,396.58 175.25,395.7 175.88,394.84 176.52,393.99 177.15,393.17 177.79,392.36 178.42,391.56 179.06,390.79 179.69,390.03 180.33,389.3 180.96,388.58 181.6,387.87 182.23,387.19 182.87,386.52 183.5,385.87 184.14,385.24 184.77,384.63 185.41,384.03 186.04,383.45 186.68,382.89 187.32,382.34 187.95,381.81 188.59,381.29 189.22,380.79 189.86,380.31 190.49,379.84 191.13,379.39 191.76,378.95 192.4,378.52 193.03,378.11 193.67,377.71 194.3,377.33 194.94,376.96 195.57,376.6 196.21,376.25 196.84,375.92 197.48,375.6 198.11,375.28 198.75,374.98 199.38,374.69 200.02,374.41 200.66,374.14 201.29,373.88 201.93,373.63 202.56,373.39 203.2,373.16 203.83,372.93 204.47,372.72 205.1,372.51 205.74,372.31 206.37,372.12 207.01,371.93 207.64,371.76 208.28,371.58 208.91,371.42 209.55,371.26 210.18,371.11 210.82,370.96 211.45,370.82 212.09,370.68 212.72,370.55 213.36,370.43 214,370.31 214.63,370.19 215.27,370.08 215.9,369.98" fill="none" stroke="#000" stroke-width="1.6" stroke-linejoin="round" stroke-linecap="round"/>
<path d="M121.84,458.79 L124.54,463.65 L119.14,463.65 Z" fill="#000"/>
<path d="M137.5,450.89 L140.2,455.75 L134.8,455.75 Z" fill="#000"/>
<path d="M153.16,436.09 L155.86,440.95 L150.46,440.95 Z" fill="#000"/>
<path d="M168.82,392.39 L171.52,397.25 L166.12,397.25 Z" fill="#000"/>
<path d="M200.14,376.49 L202.84,381.35 L197.44,381.35 Z" fill="#000"/>
<path d="M215.8,362.09 L218.5,366.95 L213.1,366.95 Z" fill="#000"/>
<rect x="56.9" y="470.8" width="4.6" height="4.6" fill="#3a53a5"/>
<rect x="72.56" y="470.7" width="4.6" height="4.6" fill="#3a53a5"/>
<rect x="88.22" y="468.5" width="4.6" height="4.6" fill="#3a53a5"/>
<rect x="103.88" y="465.4" width="4.6" height="4.6" fill="#3a53a5"/>
<rect x="119.54" y="458" width="4.6" height="4.6" fill="#3a53a5"/>
<rect x="135.2" y="441.1" width="4.6" height="4.6" fill="#3a53a5"/>
<rect x="150.86" y="410" width="4.6" height="4.6" fill="#3a53a5"/>
<rect x="166.52" y="394.2" width="4.6" height="4.6" fill="#3a53a5"/>
<rect x="182.18" y="386.6" width="4.6" height="4.6" fill="#3a53a5"/>
<rect x="197.84" y="370.5" width="4.6" height="4.6" fill="#3a53a5"/>
<rect x="213.5" y="366.8" width="4.6" height="4.6" fill="#3a53a5"/>
<circle cx="59.2" cy="474.2" r="2.3" fill="#e8232c"/>
<circle cx="74.86" cy="474.2" r="2.3" fill="#e8232c"/>
<circle cx="90.52" cy="473.5" r="2.3" fill="#e8232c"/>
<circle cx="106.18" cy="473.1" r="2.3" fill="#e8232c"/>
<circle cx="121.84" cy="471.5" r="2.3" fill="#e8232c"/>
<circle cx="137.5" cy="467.7" r="2.3" fill="#e8232c"/>
<circle cx="153.16" cy="460.3" r="2.3" fill="#e8232c"/>
<circle cx="168.82" cy="448" r="2.3" fill="#e8232c"/>
<circle cx="184.48" cy="436.6" r="2.3" fill="#e8232c"/>
<circle cx="200.14" cy="412.1" r="2.3" fill="#e8232c"/>
<circle cx="215.8" cy="434.3" r="2.3" fill="#e8232c"/>
<line x1="59" y1="356.1" x2="72" y2="356.1" stroke="#e8232c" stroke-width="1.4"/>
<circle cx="65.5" cy="356.1" r="2.3" fill="#e8232c"/>
<line x1="59" y1="368.3" x2="72" y2="368.3" stroke="#3a53a5" stroke-width="1.4"/>
<rect x="63.2" y="366" width="4.6" height="4.6" fill="#3a53a5"/>
<line x1="59" y1="380.3" x2="72" y2="380.3" stroke="#000" stroke-width="1.4"/>
<path d="M65.5,377.18 L68.3,382.22 L62.7,382.22 Z" fill="#000"/>
<text x="74.2" y="358.4" font-size="6.6" fill="#2a2a2a">D4-LR, EC<tspan font-size="5.02" dy="1.8">50</tspan><tspan dy="-1.8"> = 8.1 nmol/L</tspan></text>
<text x="74.2" y="370.4" font-size="6.6" fill="#2a2a2a">D4-AAA-D4-LR, EC<tspan font-size="5.02" dy="1.8">50</tspan><tspan dy="-1.8"> = 1.9 nmol/L</tspan></text>
<text x="74.2" y="382.4" font-size="6.6" fill="#2a2a2a">D4-GGS-D4-LR, EC<tspan font-size="5.02" dy="1.8">50</tspan><tspan dy="-1.8"> = 3.8 nmol/L</tspan></text>
<text x="179.2" y="468.9" font-size="8.3" fill="#2a2a2a">GPC1<tspan font-size="5" dy="-3.2">+</tspan><tspan dy="3.2">/A431</tspan></text>
<text x="277.5" y="358.3" font-size="12.2" fill="#000" font-weight="bold" stroke="#000" stroke-width="0.35">F</text>
<text x="356.6" y="400" font-size="8.6" fill="#222" transform="rotate(-30 356.6 400)">D4-LR</text>
<text x="392.4" y="400" font-size="8.6" fill="#222" transform="rotate(-30 392.4 400)">D4-AAA-D4-LR</text>
<text x="439" y="400" font-size="8.6" fill="#222" transform="rotate(-30 439 400)">D4-GGS-D4-LR</text>
<defs><linearGradient id="wbg" x1="0" y1="0" x2="0" y2="1"><stop offset="0" stop-color="#d2d2d2"/><stop offset="0.5" stop-color="#dcdcdc"/><stop offset="1" stop-color="#e6e6e6"/></linearGradient><filter id="wb" x="-20%" y="-100%" width="140%" height="300%"><feGaussianBlur stdDeviation="0.75"/></filter><filter id="wbh" x="-30%" y="-300%" width="160%" height="700%"><feGaussianBlur stdDeviation="2.2"/></filter></defs>
<rect x="326.2" y="405.4" width="141.6" height="37.5" fill="url(#wbg)"/>
<g filter="url(#wbh)" opacity="0.22">
<rect x="338.9" y="418.2" width="32.6" height="7" rx="3" fill="#000"/>
<rect x="382.7" y="417.6" width="30.3" height="7" rx="3" fill="#000"/>
<rect x="423.4" y="418.5" width="31.9" height="7" rx="3" fill="#000"/>
</g>
<g filter="url(#wb)">
<path d="M338.9,421.7 C338.9,418.9 341.9,418.9 345.9,418.9 C351.2,418.9 353.2,419.6 355.2,419.6 C357.2,419.6 359.2,418.9 364.5,418.9 C368.5,418.9 371.5,418.9 371.5,421.7 C371.5,424.5 368.5,424.5 364.5,424.5 C359.2,424.5 357.2,423.8 355.2,423.8 C353.2,423.8 351.2,424.5 345.9,424.5 C341.9,424.5 338.9,424.5 338.9,421.7 Z" fill="#050505"/>
<path d="M382.7,421.1 C382.7,418.3 385.7,418.3 389.7,418.3 C393.85,418.3 395.85,418.6 397.85,418.6 C399.85,418.6 401.85,418.5 406,418.5 C410,418.5 413,418.5 413,421.1 C413,423.7 410,423.7 406,423.7 C401.85,423.7 399.85,423.6 397.85,423.6 C395.85,423.6 393.85,423.9 389.7,423.9 C385.7,423.9 382.7,423.9 382.7,421.1 Z" fill="#050505"/>
<path d="M423.4,422 C423.4,419.4 426.4,419.4 430.4,419.4 C435.35,419.4 437.35,419.5 439.35,419.5 C441.35,419.5 443.35,419.2 448.3,419.2 C452.3,419.2 455.3,419.2 455.3,422 C455.3,424.8 452.3,424.8 448.3,424.8 C443.35,424.8 441.35,424.5 439.35,424.5 C437.35,424.5 435.35,424.6 430.4,424.6 C426.4,424.6 423.4,424.6 423.4,422 Z" fill="#050505"/>
</g>
<text x="353.5" y="440.8" font-size="8.7" fill="#222">ADP-Ribosylated EF2</text>
<rect x="327.1" y="448.3" width="148.1" height="28.0" fill="none" stroke="#111" stroke-width="1.2"/>
<text x="334.6" y="458.9" font-size="7.5" fill="#222">Relative intensity compared with D4-LR</text>
<text x="351.5" y="472.2" font-size="8.0" fill="#222" text-anchor="middle">1</text>
<text x="396.2" y="472.2" font-size="8.0" fill="#222" text-anchor="middle">1.07</text>
<text x="440.8" y="472.2" font-size="8.0" fill="#222" text-anchor="middle">1.08</text>
</svg></body></html>
